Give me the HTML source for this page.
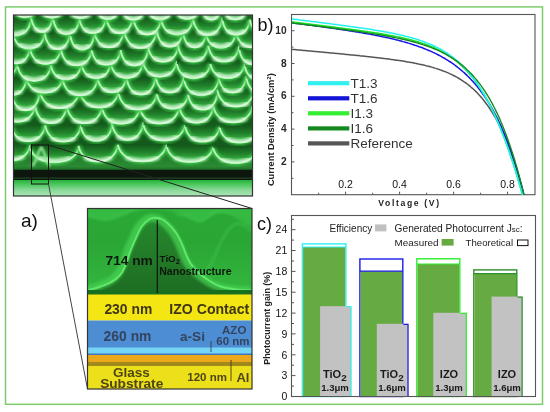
<!DOCTYPE html>
<html><head><meta charset="utf-8"><style>
html,body{margin:0;padding:0;background:#fff;width:550px;height:412px;overflow:hidden}
svg{display:block}
</style></head><body>
<svg width="550" height="412" viewBox="0 0 550 412">

<defs><clipPath id="bclip"><rect x="292" y="15" width="243" height="180"/></clipPath>
<clipPath id="semclip"><rect x="13.5" y="15" width="239" height="181"/></clipPath>
<clipPath id="aclip"><rect x="87.5" y="208.5" width="164.5" height="180.5"/></clipPath>
<linearGradient id="face" x1="0" y1="0" x2="0" y2="1">
 <stop offset="0" stop-color="#13581b"/><stop offset="0.55" stop-color="#135a1b"/><stop offset="0.75" stop-color="#21822b"/><stop offset="0.9" stop-color="#36ac42"/><stop offset="1" stop-color="#7ad884"/>
</linearGradient>
<linearGradient id="strip" x1="0" y1="0" x2="0" y2="1">
 <stop offset="0" stop-color="#1c7024"/><stop offset="0.6" stop-color="#247e2c"/><stop offset="0.85" stop-color="#2a8a33"/><stop offset="1" stop-color="#1a6420"/>
</linearGradient>
<linearGradient id="abg" x1="0" y1="0" x2="0" y2="1">
 <stop offset="0" stop-color="#2aa835"/><stop offset="0.4" stop-color="#2aa635"/><stop offset="1" stop-color="#34b83f"/>
</linearGradient>
<linearGradient id="lb" x1="0" y1="0" x2="0" y2="1">
 <stop offset="0" stop-color="#26b23a"/><stop offset="0.25" stop-color="#48c65a"/><stop offset="0.6" stop-color="#86d896"/><stop offset="1" stop-color="#ace6b8"/>
</linearGradient>
<linearGradient id="gtop" x1="0" y1="0" x2="0" y2="1">
 <stop offset="0" stop-color="#1f8a2a"/><stop offset="1" stop-color="#2cac37"/>
</linearGradient>
<linearGradient id="bump" x1="0" y1="0" x2="0" y2="1">
 <stop offset="0" stop-color="#248a2c"/><stop offset="0.5" stop-color="#237a28"/><stop offset="1" stop-color="#1d6c22"/>
</linearGradient>
<filter id="bl4" x="-20%" y="-20%" width="140%" height="140%"><feGaussianBlur stdDeviation="1.4"/></filter>
<filter id="bl3" x="-20%" y="-20%" width="140%" height="140%"><feGaussianBlur stdDeviation="0.9"/></filter>
<filter id="bl" x="-20%" y="-20%" width="140%" height="140%"><feGaussianBlur stdDeviation="0.6"/></filter>
<filter id="bl2" x="-20%" y="-20%" width="140%" height="140%"><feGaussianBlur stdDeviation="1.5"/></filter>
</defs>
<rect width="550" height="412" fill="#fff"/>
<rect x="5.5" y="6.9" width="537" height="397.4" fill="none" stroke="#7ccc6c" stroke-width="1.5"/>
<g clip-path="url(#semclip)"><rect x="13.5" y="15" width="239.0" height="181" fill="#1c6a27"/><rect x="13.5" y="140" width="239.0" height="31" fill="url(#strip)"/><path d="M-11.2,145.1 C-7.0,165.9 26.4,165.9 30.5,145.1 L30.5,123.9 L-11.2,123.9 Z" fill="url(#face)"/><path d="M-11.2,145.1 C-7.0,165.9 26.4,165.9 30.5,145.1" fill="none" stroke="#3cc849" stroke-width="5" filter="url(#bl4)"/><path d="M-11.2,145.1 C-7.0,165.9 26.4,165.9 30.5,145.1" fill="none" stroke="#b8f4bc" stroke-width="1.8" filter="url(#bl)"/><path d="M-4.5,156.4 Q9.7,163.4 23.9,156.4" fill="none" stroke="#e8fbe8" stroke-width="3.6" filter="url(#bl4)" opacity="0.9"/><path d="M30.5,148.8 C35.3,166.9 73.7,166.9 78.5,148.8 L78.5,124.9 L30.5,124.9 Z" fill="url(#face)"/><path d="M30.5,148.8 C35.3,166.9 73.7,166.9 78.5,148.8" fill="none" stroke="#3cc849" stroke-width="5" filter="url(#bl4)"/><path d="M30.5,148.8 C35.3,166.9 73.7,166.9 78.5,148.8" fill="none" stroke="#b8f4bc" stroke-width="1.8" filter="url(#bl)"/><path d="M38.2,157.4 Q54.5,164.4 70.8,157.4" fill="none" stroke="#e8fbe8" stroke-width="3.6" filter="url(#bl4)" opacity="0.9"/><path d="M78.5,145.8 C82.4,166.9 113.9,166.9 117.8,145.8 L117.8,124.9 L78.5,124.9 Z" fill="url(#face)"/><path d="M78.5,145.8 C82.4,166.9 113.9,166.9 117.8,145.8" fill="none" stroke="#3cc849" stroke-width="5" filter="url(#bl4)"/><path d="M78.5,145.8 C82.4,166.9 113.9,166.9 117.8,145.8" fill="none" stroke="#b8f4bc" stroke-width="1.8" filter="url(#bl)"/><path d="M84.8,157.4 Q98.2,164.4 111.6,157.4" fill="none" stroke="#e8fbe8" stroke-width="3.6" filter="url(#bl4)" opacity="0.9"/><path d="M117.8,144.7 C122.7,166.9 162.0,166.9 166.9,144.7 L166.9,124.9 L117.8,124.9 Z" fill="url(#face)"/><path d="M117.8,144.7 C122.7,166.9 162.0,166.9 166.9,144.7" fill="none" stroke="#3cc849" stroke-width="5" filter="url(#bl4)"/><path d="M117.8,144.7 C122.7,166.9 162.0,166.9 166.9,144.7" fill="none" stroke="#b8f4bc" stroke-width="1.8" filter="url(#bl)"/><path d="M125.7,157.4 Q142.4,164.4 159.0,157.4" fill="none" stroke="#e8fbe8" stroke-width="3.6" filter="url(#bl4)" opacity="0.9"/><path d="M166.9,147.3 C171.5,167.1 208.7,167.1 213.3,147.3 L213.3,125.1 L166.9,125.1 Z" fill="url(#face)"/><path d="M166.9,147.3 C171.5,167.1 208.7,167.1 213.3,147.3" fill="none" stroke="#3cc849" stroke-width="5" filter="url(#bl4)"/><path d="M166.9,147.3 C171.5,167.1 208.7,167.1 213.3,147.3" fill="none" stroke="#b8f4bc" stroke-width="1.8" filter="url(#bl)"/><path d="M174.3,157.6 Q190.1,164.6 205.9,157.6" fill="none" stroke="#e8fbe8" stroke-width="3.6" filter="url(#bl4)" opacity="0.9"/><path d="M213.3,148.2 C217.8,168.2 253.3,168.2 257.8,148.2 L257.8,126.2 L213.3,126.2 Z" fill="url(#face)"/><path d="M213.3,148.2 C217.8,168.2 253.3,168.2 257.8,148.2" fill="none" stroke="#3cc849" stroke-width="5" filter="url(#bl4)"/><path d="M213.3,148.2 C217.8,168.2 253.3,168.2 257.8,148.2" fill="none" stroke="#b8f4bc" stroke-width="1.8" filter="url(#bl)"/><path d="M220.5,158.7 Q235.6,165.7 250.7,158.7" fill="none" stroke="#e8fbe8" stroke-width="3.6" filter="url(#bl4)" opacity="0.9"/><path d="M-27.4,130.7 C-23.6,148.8 7.4,148.8 11.3,130.7 L11.3,106.8 L-27.4,106.8 Z" fill="url(#face)"/><path d="M-27.4,130.7 C-23.6,148.8 7.4,148.8 11.3,130.7" fill="none" stroke="#3cc849" stroke-width="5" filter="url(#bl4)"/><path d="M-27.4,130.7 C-23.6,148.8 7.4,148.8 11.3,130.7" fill="none" stroke="#b8f4bc" stroke-width="1.8" filter="url(#bl)"/><path d="M-21.2,139.3 Q-8.1,146.3 5.1,139.3" fill="none" stroke="#e8fbe8" stroke-width="3.6" filter="url(#bl4)" opacity="0.9"/><path d="M11.3,125.7 C14.7,146.4 41.8,146.4 45.2,125.7 L45.2,104.4 L11.3,104.4 Z" fill="url(#face)"/><path d="M11.3,125.7 C14.7,146.4 41.8,146.4 45.2,125.7" fill="none" stroke="#3cc849" stroke-width="5" filter="url(#bl4)"/><path d="M11.3,125.7 C14.7,146.4 41.8,146.4 45.2,125.7" fill="none" stroke="#b8f4bc" stroke-width="1.8" filter="url(#bl)"/><path d="M16.7,136.9 Q28.3,143.9 39.8,136.9" fill="none" stroke="#e8fbe8" stroke-width="3.6" filter="url(#bl4)" opacity="0.9"/><path d="M45.2,125.2 C48.8,147.2 77.6,147.2 81.2,125.2 L81.2,105.2 L45.2,105.2 Z" fill="url(#face)"/><path d="M45.2,125.2 C48.8,147.2 77.6,147.2 81.2,125.2" fill="none" stroke="#3cc849" stroke-width="5" filter="url(#bl4)"/><path d="M45.2,125.2 C48.8,147.2 77.6,147.2 81.2,125.2" fill="none" stroke="#b8f4bc" stroke-width="1.8" filter="url(#bl)"/><path d="M51.0,137.7 Q63.2,144.7 75.4,137.7" fill="none" stroke="#e8fbe8" stroke-width="3.6" filter="url(#bl4)" opacity="0.9"/><path d="M81.2,127.1 C84.2,145.5 108.5,145.5 111.6,127.1 L111.6,103.5 L81.2,103.5 Z" fill="url(#face)"/><path d="M81.2,127.1 C84.2,145.5 108.5,145.5 111.6,127.1" fill="none" stroke="#3cc849" stroke-width="5" filter="url(#bl4)"/><path d="M81.2,127.1 C84.2,145.5 108.5,145.5 111.6,127.1" fill="none" stroke="#b8f4bc" stroke-width="1.8" filter="url(#bl)"/><path d="M86.1,136.0 Q96.4,143.0 106.7,136.0" fill="none" stroke="#e8fbe8" stroke-width="3.6" filter="url(#bl4)" opacity="0.9"/><path d="M111.6,122.4 C114.8,145.6 140.4,145.6 143.6,122.4 L143.6,103.6 L111.6,103.6 Z" fill="url(#face)"/><path d="M111.6,122.4 C114.8,145.6 140.4,145.6 143.6,122.4" fill="none" stroke="#3cc849" stroke-width="5" filter="url(#bl4)"/><path d="M111.6,122.4 C114.8,145.6 140.4,145.6 143.6,122.4" fill="none" stroke="#b8f4bc" stroke-width="1.8" filter="url(#bl)"/><path d="M116.7,136.1 Q127.6,143.1 138.4,136.1" fill="none" stroke="#e8fbe8" stroke-width="3.6" filter="url(#bl4)" opacity="0.9"/><path d="M143.6,125.1 C147.7,145.6 181.1,145.6 185.3,125.1 L185.3,103.6 L143.6,103.6 Z" fill="url(#face)"/><path d="M143.6,125.1 C147.7,145.6 181.1,145.6 185.3,125.1" fill="none" stroke="#3cc849" stroke-width="5" filter="url(#bl4)"/><path d="M143.6,125.1 C147.7,145.6 181.1,145.6 185.3,125.1" fill="none" stroke="#b8f4bc" stroke-width="1.8" filter="url(#bl)"/><path d="M150.2,136.1 Q164.4,143.1 178.6,136.1" fill="none" stroke="#e8fbe8" stroke-width="3.6" filter="url(#bl4)" opacity="0.9"/><path d="M185.3,126.9 C188.7,146.6 216.4,146.6 219.8,126.9 L219.8,104.6 L185.3,104.6 Z" fill="url(#face)"/><path d="M185.3,126.9 C188.7,146.6 216.4,146.6 219.8,126.9" fill="none" stroke="#3cc849" stroke-width="5" filter="url(#bl4)"/><path d="M185.3,126.9 C188.7,146.6 216.4,146.6 219.8,126.9" fill="none" stroke="#b8f4bc" stroke-width="1.8" filter="url(#bl)"/><path d="M190.8,137.1 Q202.6,144.1 214.3,137.1" fill="none" stroke="#e8fbe8" stroke-width="3.6" filter="url(#bl4)" opacity="0.9"/><path d="M219.8,127.9 C223.7,147.6 254.9,147.6 258.8,127.9 L258.8,105.6 L219.8,105.6 Z" fill="url(#face)"/><path d="M219.8,127.9 C223.7,147.6 254.9,147.6 258.8,127.9" fill="none" stroke="#3cc849" stroke-width="5" filter="url(#bl4)"/><path d="M219.8,127.9 C223.7,147.6 254.9,147.6 258.8,127.9" fill="none" stroke="#b8f4bc" stroke-width="1.8" filter="url(#bl)"/><path d="M226.1,138.1 Q239.3,145.1 252.6,138.1" fill="none" stroke="#e8fbe8" stroke-width="3.6" filter="url(#bl4)" opacity="0.9"/><path d="M-1.1,105.4 C2.6,127.3 31.8,127.3 35.4,105.4 L35.4,85.3 L-1.1,85.3 Z" fill="url(#face)"/><path d="M-1.1,105.4 C2.6,127.3 31.8,127.3 35.4,105.4" fill="none" stroke="#3cc849" stroke-width="5" filter="url(#bl4)"/><path d="M-1.1,105.4 C2.6,127.3 31.8,127.3 35.4,105.4" fill="none" stroke="#b8f4bc" stroke-width="1.8" filter="url(#bl)"/><path d="M4.8,117.8 Q17.2,124.8 29.6,117.8" fill="none" stroke="#e8fbe8" stroke-width="3.6" filter="url(#bl4)" opacity="0.9"/><path d="M35.4,107.0 C38.6,128.4 63.6,128.4 66.7,107.0 L66.7,86.4 L35.4,86.4 Z" fill="url(#face)"/><path d="M35.4,107.0 C38.6,128.4 63.6,128.4 66.7,107.0" fill="none" stroke="#3cc849" stroke-width="5" filter="url(#bl4)"/><path d="M35.4,107.0 C38.6,128.4 63.6,128.4 66.7,107.0" fill="none" stroke="#b8f4bc" stroke-width="1.8" filter="url(#bl)"/><path d="M40.4,118.9 Q51.1,125.9 61.7,118.9" fill="none" stroke="#e8fbe8" stroke-width="3.6" filter="url(#bl4)" opacity="0.9"/><path d="M66.7,105.9 C70.3,128.9 99.0,128.9 102.6,105.9 L102.6,86.9 L66.7,86.9 Z" fill="url(#face)"/><path d="M66.7,105.9 C70.3,128.9 99.0,128.9 102.6,105.9" fill="none" stroke="#3cc849" stroke-width="5" filter="url(#bl4)"/><path d="M66.7,105.9 C70.3,128.9 99.0,128.9 102.6,105.9" fill="none" stroke="#b8f4bc" stroke-width="1.8" filter="url(#bl)"/><path d="M72.5,119.4 Q84.6,126.4 96.8,119.4" fill="none" stroke="#e8fbe8" stroke-width="3.6" filter="url(#bl4)" opacity="0.9"/><path d="M102.6,109.4 C106.2,128.6 135.8,128.6 139.5,109.4 L139.5,86.6 L102.6,86.6 Z" fill="url(#face)"/><path d="M102.6,109.4 C106.2,128.6 135.8,128.6 139.5,109.4" fill="none" stroke="#3cc849" stroke-width="5" filter="url(#bl4)"/><path d="M102.6,109.4 C106.2,128.6 135.8,128.6 139.5,109.4" fill="none" stroke="#b8f4bc" stroke-width="1.8" filter="url(#bl)"/><path d="M108.5,119.1 Q121.0,126.1 133.6,119.1" fill="none" stroke="#e8fbe8" stroke-width="3.6" filter="url(#bl4)" opacity="0.9"/><path d="M139.5,107.0 C143.5,129.1 175.6,129.1 179.6,107.0 L179.6,87.1 L139.5,87.1 Z" fill="url(#face)"/><path d="M139.5,107.0 C143.5,129.1 175.6,129.1 179.6,107.0" fill="none" stroke="#3cc849" stroke-width="5" filter="url(#bl4)"/><path d="M139.5,107.0 C143.5,129.1 175.6,129.1 179.6,107.0" fill="none" stroke="#b8f4bc" stroke-width="1.8" filter="url(#bl)"/><path d="M145.9,119.6 Q159.6,126.6 173.2,119.6" fill="none" stroke="#e8fbe8" stroke-width="3.6" filter="url(#bl4)" opacity="0.9"/><path d="M179.6,107.3 C183.0,128.0 209.9,128.0 213.2,107.3 L213.2,86.0 L179.6,86.0 Z" fill="url(#face)"/><path d="M179.6,107.3 C183.0,128.0 209.9,128.0 213.2,107.3" fill="none" stroke="#3cc849" stroke-width="5" filter="url(#bl4)"/><path d="M179.6,107.3 C183.0,128.0 209.9,128.0 213.2,107.3" fill="none" stroke="#b8f4bc" stroke-width="1.8" filter="url(#bl)"/><path d="M185.0,118.5 Q196.4,125.5 207.8,118.5" fill="none" stroke="#e8fbe8" stroke-width="3.6" filter="url(#bl4)" opacity="0.9"/><path d="M213.2,105.8 C217.2,127.9 248.8,127.9 252.8,105.8 L252.8,85.9 L213.2,85.9 Z" fill="url(#face)"/><path d="M213.2,105.8 C217.2,127.9 248.8,127.9 252.8,105.8" fill="none" stroke="#3cc849" stroke-width="5" filter="url(#bl4)"/><path d="M213.2,105.8 C217.2,127.9 248.8,127.9 252.8,105.8" fill="none" stroke="#b8f4bc" stroke-width="1.8" filter="url(#bl)"/><path d="M219.5,118.4 Q233.0,125.4 246.4,118.4" fill="none" stroke="#e8fbe8" stroke-width="3.6" filter="url(#bl4)" opacity="0.9"/><path d="M252.8,108.1 C256.9,130.4 289.6,130.4 293.7,108.1 L293.7,88.4 L252.8,88.4 Z" fill="url(#face)"/><path d="M252.8,108.1 C256.9,130.4 289.6,130.4 293.7,108.1" fill="none" stroke="#3cc849" stroke-width="5" filter="url(#bl4)"/><path d="M252.8,108.1 C256.9,130.4 289.6,130.4 293.7,108.1" fill="none" stroke="#b8f4bc" stroke-width="1.8" filter="url(#bl)"/><path d="M259.3,120.9 Q273.2,127.9 287.1,120.9" fill="none" stroke="#e8fbe8" stroke-width="3.6" filter="url(#bl4)" opacity="0.9"/><path d="M-21.1,97.2 C-17.9,115.8 8.5,115.8 11.8,97.2 L11.8,73.8 L-21.1,73.8 Z" fill="url(#face)"/><path d="M-21.1,97.2 C-17.9,115.8 8.5,115.8 11.8,97.2" fill="none" stroke="#3cc849" stroke-width="5" filter="url(#bl4)"/><path d="M-21.1,97.2 C-17.9,115.8 8.5,115.8 11.8,97.2" fill="none" stroke="#b8f4bc" stroke-width="1.8" filter="url(#bl)"/><path d="M-15.9,106.3 Q-4.7,113.3 6.5,106.3" fill="none" stroke="#e8fbe8" stroke-width="3.6" filter="url(#bl4)" opacity="0.9"/><path d="M11.8,93.3 C14.5,115.9 36.9,115.9 39.7,93.3 L39.7,73.9 L11.8,73.9 Z" fill="url(#face)"/><path d="M11.8,93.3 C14.5,115.9 36.9,115.9 39.7,93.3" fill="none" stroke="#3cc849" stroke-width="5" filter="url(#bl4)"/><path d="M11.8,93.3 C14.5,115.9 36.9,115.9 39.7,93.3" fill="none" stroke="#b8f4bc" stroke-width="1.8" filter="url(#bl)"/><path d="M16.2,106.4 Q25.7,113.4 35.2,106.4" fill="none" stroke="#e8fbe8" stroke-width="3.6" filter="url(#bl4)" opacity="0.9"/><path d="M39.7,90.8 C43.7,113.8 75.7,113.8 79.6,90.8 L79.6,71.8 L39.7,71.8 Z" fill="url(#face)"/><path d="M39.7,90.8 C43.7,113.8 75.7,113.8 79.6,90.8" fill="none" stroke="#3cc849" stroke-width="5" filter="url(#bl4)"/><path d="M39.7,90.8 C43.7,113.8 75.7,113.8 79.6,90.8" fill="none" stroke="#b8f4bc" stroke-width="1.8" filter="url(#bl)"/><path d="M46.1,104.3 Q59.7,111.3 73.3,104.3" fill="none" stroke="#e8fbe8" stroke-width="3.6" filter="url(#bl4)" opacity="0.9"/><path d="M79.6,91.1 C83.6,113.0 115.0,113.0 118.9,91.1 L118.9,71.0 L79.6,71.0 Z" fill="url(#face)"/><path d="M79.6,91.1 C83.6,113.0 115.0,113.0 118.9,91.1" fill="none" stroke="#3cc849" stroke-width="5" filter="url(#bl4)"/><path d="M79.6,91.1 C83.6,113.0 115.0,113.0 118.9,91.1" fill="none" stroke="#b8f4bc" stroke-width="1.8" filter="url(#bl)"/><path d="M85.9,103.5 Q99.3,110.5 112.6,103.5" fill="none" stroke="#e8fbe8" stroke-width="3.6" filter="url(#bl4)" opacity="0.9"/><path d="M118.9,94.1 C122.7,114.8 153.2,114.8 157.0,94.1 L157.0,72.8 L118.9,72.8 Z" fill="url(#face)"/><path d="M118.9,94.1 C122.7,114.8 153.2,114.8 157.0,94.1" fill="none" stroke="#3cc849" stroke-width="5" filter="url(#bl4)"/><path d="M118.9,94.1 C122.7,114.8 153.2,114.8 157.0,94.1" fill="none" stroke="#b8f4bc" stroke-width="1.8" filter="url(#bl)"/><path d="M125.0,105.3 Q137.9,112.3 150.9,105.3" fill="none" stroke="#e8fbe8" stroke-width="3.6" filter="url(#bl4)" opacity="0.9"/><path d="M157.0,94.5 C160.1,113.5 185.3,113.5 188.4,94.5 L188.4,71.5 L157.0,71.5 Z" fill="url(#face)"/><path d="M157.0,94.5 C160.1,113.5 185.3,113.5 188.4,94.5" fill="none" stroke="#3cc849" stroke-width="5" filter="url(#bl4)"/><path d="M157.0,94.5 C160.1,113.5 185.3,113.5 188.4,94.5" fill="none" stroke="#b8f4bc" stroke-width="1.8" filter="url(#bl)"/><path d="M162.0,104.0 Q172.7,111.0 183.4,104.0" fill="none" stroke="#e8fbe8" stroke-width="3.6" filter="url(#bl4)" opacity="0.9"/><path d="M188.4,95.1 C191.3,114.5 214.3,114.5 217.1,95.1 L217.1,72.5 L188.4,72.5 Z" fill="url(#face)"/><path d="M188.4,95.1 C191.3,114.5 214.3,114.5 217.1,95.1" fill="none" stroke="#3cc849" stroke-width="5" filter="url(#bl4)"/><path d="M188.4,95.1 C191.3,114.5 214.3,114.5 217.1,95.1" fill="none" stroke="#b8f4bc" stroke-width="1.8" filter="url(#bl)"/><path d="M193.0,105.0 Q202.8,112.0 212.5,105.0" fill="none" stroke="#e8fbe8" stroke-width="3.6" filter="url(#bl4)" opacity="0.9"/><path d="M217.1,89.5 C220.9,112.3 251.1,112.3 254.9,89.5 L254.9,70.3 L217.1,70.3 Z" fill="url(#face)"/><path d="M217.1,89.5 C220.9,112.3 251.1,112.3 254.9,89.5" fill="none" stroke="#3cc849" stroke-width="5" filter="url(#bl4)"/><path d="M217.1,89.5 C220.9,112.3 251.1,112.3 254.9,89.5" fill="none" stroke="#b8f4bc" stroke-width="1.8" filter="url(#bl)"/><path d="M223.2,102.8 Q236.0,109.8 248.9,102.8" fill="none" stroke="#e8fbe8" stroke-width="3.6" filter="url(#bl4)" opacity="0.9"/><path d="M254.9,93.1 C258.6,115.8 287.7,115.8 291.3,93.1 L291.3,73.8 L254.9,73.8 Z" fill="url(#face)"/><path d="M254.9,93.1 C258.6,115.8 287.7,115.8 291.3,93.1" fill="none" stroke="#3cc849" stroke-width="5" filter="url(#bl4)"/><path d="M254.9,93.1 C258.6,115.8 287.7,115.8 291.3,93.1" fill="none" stroke="#b8f4bc" stroke-width="1.8" filter="url(#bl)"/><path d="M260.7,106.3 Q273.1,113.3 285.5,106.3" fill="none" stroke="#e8fbe8" stroke-width="3.6" filter="url(#bl4)" opacity="0.9"/><path d="M-4.2,80.2 C-1.1,100.3 23.3,100.3 26.4,80.2 L26.4,58.3 L-4.2,58.3 Z" fill="url(#face)"/><path d="M-4.2,80.2 C-1.1,100.3 23.3,100.3 26.4,80.2" fill="none" stroke="#3cc849" stroke-width="5" filter="url(#bl4)"/><path d="M-4.2,80.2 C-1.1,100.3 23.3,100.3 26.4,80.2" fill="none" stroke="#b8f4bc" stroke-width="1.8" filter="url(#bl)"/><path d="M0.7,90.8 Q11.1,97.8 21.5,90.8" fill="none" stroke="#e8fbe8" stroke-width="3.6" filter="url(#bl4)" opacity="0.9"/><path d="M26.4,78.1 C30.0,97.7 59.4,97.7 63.0,78.1 L63.0,55.7 L26.4,55.7 Z" fill="url(#face)"/><path d="M26.4,78.1 C30.0,97.7 59.4,97.7 63.0,78.1" fill="none" stroke="#3cc849" stroke-width="5" filter="url(#bl4)"/><path d="M26.4,78.1 C30.0,97.7 59.4,97.7 63.0,78.1" fill="none" stroke="#b8f4bc" stroke-width="1.8" filter="url(#bl)"/><path d="M32.2,88.2 Q44.7,95.2 57.2,88.2" fill="none" stroke="#e8fbe8" stroke-width="3.6" filter="url(#bl4)" opacity="0.9"/><path d="M63.0,80.3 C66.5,100.5 93.9,100.5 97.3,80.3 L97.3,58.5 L63.0,58.5 Z" fill="url(#face)"/><path d="M63.0,80.3 C66.5,100.5 93.9,100.5 97.3,80.3" fill="none" stroke="#3cc849" stroke-width="5" filter="url(#bl4)"/><path d="M63.0,80.3 C66.5,100.5 93.9,100.5 97.3,80.3" fill="none" stroke="#b8f4bc" stroke-width="1.8" filter="url(#bl)"/><path d="M68.5,91.0 Q80.2,98.0 91.8,91.0" fill="none" stroke="#e8fbe8" stroke-width="3.6" filter="url(#bl4)" opacity="0.9"/><path d="M97.3,76.8 C100.2,97.5 123.7,97.5 126.6,76.8 L126.6,55.5 L97.3,55.5 Z" fill="url(#face)"/><path d="M97.3,76.8 C100.2,97.5 123.7,97.5 126.6,76.8" fill="none" stroke="#3cc849" stroke-width="5" filter="url(#bl4)"/><path d="M97.3,76.8 C100.2,97.5 123.7,97.5 126.6,76.8" fill="none" stroke="#b8f4bc" stroke-width="1.8" filter="url(#bl)"/><path d="M102.0,88.0 Q111.9,95.0 121.9,88.0" fill="none" stroke="#e8fbe8" stroke-width="3.6" filter="url(#bl4)" opacity="0.9"/><path d="M126.6,77.8 C129.5,100.2 152.6,100.2 155.5,77.8 L155.5,58.2 L126.6,58.2 Z" fill="url(#face)"/><path d="M126.6,77.8 C129.5,100.2 152.6,100.2 155.5,77.8" fill="none" stroke="#3cc849" stroke-width="5" filter="url(#bl4)"/><path d="M126.6,77.8 C129.5,100.2 152.6,100.2 155.5,77.8" fill="none" stroke="#b8f4bc" stroke-width="1.8" filter="url(#bl)"/><path d="M131.2,90.7 Q141.0,97.7 150.8,90.7" fill="none" stroke="#e8fbe8" stroke-width="3.6" filter="url(#bl4)" opacity="0.9"/><path d="M155.5,75.9 C158.3,98.1 181.4,98.1 184.3,75.9 L184.3,56.1 L155.5,56.1 Z" fill="url(#face)"/><path d="M155.5,75.9 C158.3,98.1 181.4,98.1 184.3,75.9" fill="none" stroke="#3cc849" stroke-width="5" filter="url(#bl4)"/><path d="M155.5,75.9 C158.3,98.1 181.4,98.1 184.3,75.9" fill="none" stroke="#b8f4bc" stroke-width="1.8" filter="url(#bl)"/><path d="M160.1,88.6 Q169.9,95.6 179.7,88.6" fill="none" stroke="#e8fbe8" stroke-width="3.6" filter="url(#bl4)" opacity="0.9"/><path d="M184.3,80.6 C187.7,100.2 215.0,100.2 218.4,80.6 L218.4,58.2 L184.3,58.2 Z" fill="url(#face)"/><path d="M184.3,80.6 C187.7,100.2 215.0,100.2 218.4,80.6" fill="none" stroke="#3cc849" stroke-width="5" filter="url(#bl4)"/><path d="M184.3,80.6 C187.7,100.2 215.0,100.2 218.4,80.6" fill="none" stroke="#b8f4bc" stroke-width="1.8" filter="url(#bl)"/><path d="M189.7,90.7 Q201.3,97.7 213.0,90.7" fill="none" stroke="#e8fbe8" stroke-width="3.6" filter="url(#bl4)" opacity="0.9"/><path d="M218.4,76.0 C221.2,98.2 243.8,98.2 246.6,76.0 L246.6,56.2 L218.4,56.2 Z" fill="url(#face)"/><path d="M218.4,76.0 C221.2,98.2 243.8,98.2 246.6,76.0" fill="none" stroke="#3cc849" stroke-width="5" filter="url(#bl4)"/><path d="M218.4,76.0 C221.2,98.2 243.8,98.2 246.6,76.0" fill="none" stroke="#b8f4bc" stroke-width="1.8" filter="url(#bl)"/><path d="M222.9,88.7 Q232.5,95.7 242.1,88.7" fill="none" stroke="#e8fbe8" stroke-width="3.6" filter="url(#bl4)" opacity="0.9"/><path d="M246.6,78.3 C249.6,98.4 273.4,98.4 276.4,78.3 L276.4,56.4 L246.6,56.4 Z" fill="url(#face)"/><path d="M246.6,78.3 C249.6,98.4 273.4,98.4 276.4,78.3" fill="none" stroke="#3cc849" stroke-width="5" filter="url(#bl4)"/><path d="M246.6,78.3 C249.6,98.4 273.4,98.4 276.4,78.3" fill="none" stroke="#b8f4bc" stroke-width="1.8" filter="url(#bl)"/><path d="M251.4,88.9 Q261.5,95.9 271.6,88.9" fill="none" stroke="#e8fbe8" stroke-width="3.6" filter="url(#bl4)" opacity="0.9"/><path d="M-15.8,63.9 C-12.5,82.0 14.4,82.0 17.8,63.9 L17.8,40.0 L-15.8,40.0 Z" fill="url(#face)"/><path d="M-15.8,63.9 C-12.5,82.0 14.4,82.0 17.8,63.9" fill="none" stroke="#3cc849" stroke-width="5" filter="url(#bl4)"/><path d="M-15.8,63.9 C-12.5,82.0 14.4,82.0 17.8,63.9" fill="none" stroke="#b8f4bc" stroke-width="1.8" filter="url(#bl)"/><path d="M-10.5,72.5 Q1.0,79.5 12.4,72.5" fill="none" stroke="#e8fbe8" stroke-width="3.6" filter="url(#bl4)" opacity="0.9"/><path d="M17.8,66.6 C21.1,85.8 47.5,85.8 50.8,66.6 L50.8,43.8 L17.8,43.8 Z" fill="url(#face)"/><path d="M17.8,66.6 C21.1,85.8 47.5,85.8 50.8,66.6" fill="none" stroke="#3cc849" stroke-width="5" filter="url(#bl4)"/><path d="M17.8,66.6 C21.1,85.8 47.5,85.8 50.8,66.6" fill="none" stroke="#b8f4bc" stroke-width="1.8" filter="url(#bl)"/><path d="M23.1,76.3 Q34.3,83.3 45.5,76.3" fill="none" stroke="#e8fbe8" stroke-width="3.6" filter="url(#bl4)" opacity="0.9"/><path d="M50.8,64.8 C53.8,84.3 78.2,84.3 81.3,64.8 L81.3,42.3 L50.8,42.3 Z" fill="url(#face)"/><path d="M50.8,64.8 C53.8,84.3 78.2,84.3 81.3,64.8" fill="none" stroke="#3cc849" stroke-width="5" filter="url(#bl4)"/><path d="M50.8,64.8 C53.8,84.3 78.2,84.3 81.3,64.8" fill="none" stroke="#b8f4bc" stroke-width="1.8" filter="url(#bl)"/><path d="M55.7,74.8 Q66.0,81.8 76.4,74.8" fill="none" stroke="#e8fbe8" stroke-width="3.6" filter="url(#bl4)" opacity="0.9"/><path d="M81.3,63.4 C84.2,83.2 107.8,83.2 110.8,63.4 L110.8,41.2 L81.3,41.2 Z" fill="url(#face)"/><path d="M81.3,63.4 C84.2,83.2 107.8,83.2 110.8,63.4" fill="none" stroke="#3cc849" stroke-width="5" filter="url(#bl4)"/><path d="M81.3,63.4 C84.2,83.2 107.8,83.2 110.8,63.4" fill="none" stroke="#b8f4bc" stroke-width="1.8" filter="url(#bl)"/><path d="M86.0,73.7 Q96.0,80.7 106.1,73.7" fill="none" stroke="#e8fbe8" stroke-width="3.6" filter="url(#bl4)" opacity="0.9"/><path d="M110.8,63.3 C114.0,83.1 139.6,83.1 142.8,63.3 L142.8,41.1 L110.8,41.1 Z" fill="url(#face)"/><path d="M110.8,63.3 C114.0,83.1 139.6,83.1 142.8,63.3" fill="none" stroke="#3cc849" stroke-width="5" filter="url(#bl4)"/><path d="M110.8,63.3 C114.0,83.1 139.6,83.1 142.8,63.3" fill="none" stroke="#b8f4bc" stroke-width="1.8" filter="url(#bl)"/><path d="M115.9,73.6 Q126.8,80.6 137.7,73.6" fill="none" stroke="#e8fbe8" stroke-width="3.6" filter="url(#bl4)" opacity="0.9"/><path d="M142.8,61.1 C146.2,82.0 173.5,82.0 176.9,61.1 L176.9,40.0 L142.8,40.0 Z" fill="url(#face)"/><path d="M142.8,61.1 C146.2,82.0 173.5,82.0 176.9,61.1" fill="none" stroke="#3cc849" stroke-width="5" filter="url(#bl4)"/><path d="M142.8,61.1 C146.2,82.0 173.5,82.0 176.9,61.1" fill="none" stroke="#b8f4bc" stroke-width="1.8" filter="url(#bl)"/><path d="M148.3,72.5 Q159.9,79.5 171.4,72.5" fill="none" stroke="#e8fbe8" stroke-width="3.6" filter="url(#bl4)" opacity="0.9"/><path d="M176.9,64.2 C180.2,83.1 207.1,83.1 210.5,64.2 L210.5,41.1 L176.9,41.1 Z" fill="url(#face)"/><path d="M176.9,64.2 C180.2,83.1 207.1,83.1 210.5,64.2" fill="none" stroke="#3cc849" stroke-width="5" filter="url(#bl4)"/><path d="M176.9,64.2 C180.2,83.1 207.1,83.1 210.5,64.2" fill="none" stroke="#b8f4bc" stroke-width="1.8" filter="url(#bl)"/><path d="M182.3,73.6 Q193.7,80.6 205.1,73.6" fill="none" stroke="#e8fbe8" stroke-width="3.6" filter="url(#bl4)" opacity="0.9"/><path d="M210.5,64.1 C213.9,82.9 241.5,82.9 244.9,64.1 L244.9,40.9 L210.5,40.9 Z" fill="url(#face)"/><path d="M210.5,64.1 C213.9,82.9 241.5,82.9 244.9,64.1" fill="none" stroke="#3cc849" stroke-width="5" filter="url(#bl4)"/><path d="M210.5,64.1 C213.9,82.9 241.5,82.9 244.9,64.1" fill="none" stroke="#b8f4bc" stroke-width="1.8" filter="url(#bl)"/><path d="M216.0,73.4 Q227.7,80.4 239.4,73.4" fill="none" stroke="#e8fbe8" stroke-width="3.6" filter="url(#bl4)" opacity="0.9"/><path d="M244.9,66.4 C247.9,84.7 272.1,84.7 275.2,66.4 L275.2,42.7 L244.9,42.7 Z" fill="url(#face)"/><path d="M244.9,66.4 C247.9,84.7 272.1,84.7 275.2,66.4" fill="none" stroke="#3cc849" stroke-width="5" filter="url(#bl4)"/><path d="M244.9,66.4 C247.9,84.7 272.1,84.7 275.2,66.4" fill="none" stroke="#b8f4bc" stroke-width="1.8" filter="url(#bl)"/><path d="M249.7,75.2 Q260.0,82.2 270.3,75.2" fill="none" stroke="#e8fbe8" stroke-width="3.6" filter="url(#bl4)" opacity="0.9"/><path d="M1.9,48.0 C4.7,68.6 27.3,68.6 30.1,48.0 L30.1,26.6 L1.9,26.6 Z" fill="url(#face)"/><path d="M1.9,48.0 C4.7,68.6 27.3,68.6 30.1,48.0" fill="none" stroke="#3cc849" stroke-width="5" filter="url(#bl4)"/><path d="M1.9,48.0 C4.7,68.6 27.3,68.6 30.1,48.0" fill="none" stroke="#b8f4bc" stroke-width="1.8" filter="url(#bl)"/><path d="M6.4,59.1 Q16.0,66.1 25.6,59.1" fill="none" stroke="#e8fbe8" stroke-width="3.6" filter="url(#bl4)" opacity="0.9"/><path d="M30.1,48.4 C33.2,69.2 58.1,69.2 61.2,48.4 L61.2,27.2 L30.1,27.2 Z" fill="url(#face)"/><path d="M30.1,48.4 C33.2,69.2 58.1,69.2 61.2,48.4" fill="none" stroke="#3cc849" stroke-width="5" filter="url(#bl4)"/><path d="M30.1,48.4 C33.2,69.2 58.1,69.2 61.2,48.4" fill="none" stroke="#b8f4bc" stroke-width="1.8" filter="url(#bl)"/><path d="M35.1,59.7 Q45.6,66.7 56.2,59.7" fill="none" stroke="#e8fbe8" stroke-width="3.6" filter="url(#bl4)" opacity="0.9"/><path d="M61.2,50.0 C64.2,70.6 88.9,70.6 91.9,50.0 L91.9,28.6 L61.2,28.6 Z" fill="url(#face)"/><path d="M61.2,50.0 C64.2,70.6 88.9,70.6 91.9,50.0" fill="none" stroke="#3cc849" stroke-width="5" filter="url(#bl4)"/><path d="M61.2,50.0 C64.2,70.6 88.9,70.6 91.9,50.0" fill="none" stroke="#b8f4bc" stroke-width="1.8" filter="url(#bl)"/><path d="M66.1,61.1 Q76.5,68.1 87.0,61.1" fill="none" stroke="#e8fbe8" stroke-width="3.6" filter="url(#bl4)" opacity="0.9"/><path d="M91.9,50.6 C94.8,69.7 117.8,69.7 120.7,50.6 L120.7,27.7 L91.9,27.7 Z" fill="url(#face)"/><path d="M91.9,50.6 C94.8,69.7 117.8,69.7 120.7,50.6" fill="none" stroke="#3cc849" stroke-width="5" filter="url(#bl4)"/><path d="M91.9,50.6 C94.8,69.7 117.8,69.7 120.7,50.6" fill="none" stroke="#b8f4bc" stroke-width="1.8" filter="url(#bl)"/><path d="M96.5,60.2 Q106.3,67.2 116.1,60.2" fill="none" stroke="#e8fbe8" stroke-width="3.6" filter="url(#bl4)" opacity="0.9"/><path d="M120.7,50.1 C123.4,70.7 145.3,70.7 148.1,50.1 L148.1,28.7 L120.7,28.7 Z" fill="url(#face)"/><path d="M120.7,50.1 C123.4,70.7 145.3,70.7 148.1,50.1" fill="none" stroke="#3cc849" stroke-width="5" filter="url(#bl4)"/><path d="M120.7,50.1 C123.4,70.7 145.3,70.7 148.1,50.1" fill="none" stroke="#b8f4bc" stroke-width="1.8" filter="url(#bl)"/><path d="M125.1,61.2 Q134.4,68.2 143.7,61.2" fill="none" stroke="#e8fbe8" stroke-width="3.6" filter="url(#bl4)" opacity="0.9"/><path d="M148.1,46.8 C151.1,66.8 175.1,66.8 178.1,46.8 L178.1,24.8 L148.1,24.8 Z" fill="url(#face)"/><path d="M148.1,46.8 C151.1,66.8 175.1,66.8 178.1,46.8" fill="none" stroke="#3cc849" stroke-width="5" filter="url(#bl4)"/><path d="M148.1,46.8 C151.1,66.8 175.1,66.8 178.1,46.8" fill="none" stroke="#b8f4bc" stroke-width="1.8" filter="url(#bl)"/><path d="M152.9,57.3 Q163.1,64.3 173.3,57.3" fill="none" stroke="#e8fbe8" stroke-width="3.6" filter="url(#bl4)" opacity="0.9"/><path d="M178.1,45.7 C181.1,66.9 205.4,66.9 208.4,45.7 L208.4,24.9 L178.1,24.9 Z" fill="url(#face)"/><path d="M178.1,45.7 C181.1,66.9 205.4,66.9 208.4,45.7" fill="none" stroke="#3cc849" stroke-width="5" filter="url(#bl4)"/><path d="M178.1,45.7 C181.1,66.9 205.4,66.9 208.4,45.7" fill="none" stroke="#b8f4bc" stroke-width="1.8" filter="url(#bl)"/><path d="M183.0,57.4 Q193.3,64.4 203.6,57.4" fill="none" stroke="#e8fbe8" stroke-width="3.6" filter="url(#bl4)" opacity="0.9"/><path d="M208.4,45.8 C211.5,67.0 236.3,67.0 239.4,45.8 L239.4,25.0 L208.4,25.0 Z" fill="url(#face)"/><path d="M208.4,45.8 C211.5,67.0 236.3,67.0 239.4,45.8" fill="none" stroke="#3cc849" stroke-width="5" filter="url(#bl4)"/><path d="M208.4,45.8 C211.5,67.0 236.3,67.0 239.4,45.8" fill="none" stroke="#b8f4bc" stroke-width="1.8" filter="url(#bl)"/><path d="M213.4,57.5 Q223.9,64.5 234.4,57.5" fill="none" stroke="#e8fbe8" stroke-width="3.6" filter="url(#bl4)" opacity="0.9"/><path d="M239.4,49.8 C242.3,69.5 265.6,69.5 268.5,49.8 L268.5,27.5 L239.4,27.5 Z" fill="url(#face)"/><path d="M239.4,49.8 C242.3,69.5 265.6,69.5 268.5,49.8" fill="none" stroke="#3cc849" stroke-width="5" filter="url(#bl4)"/><path d="M239.4,49.8 C242.3,69.5 265.6,69.5 268.5,49.8" fill="none" stroke="#b8f4bc" stroke-width="1.8" filter="url(#bl)"/><path d="M244.0,60.0 Q253.9,67.0 263.8,60.0" fill="none" stroke="#e8fbe8" stroke-width="3.6" filter="url(#bl4)" opacity="0.9"/><path d="M-18.0,37.4 C-14.8,55.7 10.4,55.7 13.6,37.4 L13.6,13.7 L-18.0,13.7 Z" fill="url(#face)"/><path d="M-18.0,37.4 C-14.8,55.7 10.4,55.7 13.6,37.4" fill="none" stroke="#3cc849" stroke-width="5" filter="url(#bl4)"/><path d="M-18.0,37.4 C-14.8,55.7 10.4,55.7 13.6,37.4" fill="none" stroke="#b8f4bc" stroke-width="1.8" filter="url(#bl)"/><path d="M-12.9,46.2 Q-2.2,53.2 8.5,46.2" fill="none" stroke="#e8fbe8" stroke-width="3.6" filter="url(#bl4)" opacity="0.9"/><path d="M13.6,34.8 C16.7,53.3 41.5,53.3 44.6,34.8 L44.6,11.3 L13.6,11.3 Z" fill="url(#face)"/><path d="M13.6,34.8 C16.7,53.3 41.5,53.3 44.6,34.8" fill="none" stroke="#3cc849" stroke-width="5" filter="url(#bl4)"/><path d="M13.6,34.8 C16.7,53.3 41.5,53.3 44.6,34.8" fill="none" stroke="#b8f4bc" stroke-width="1.8" filter="url(#bl)"/><path d="M18.5,43.8 Q29.1,50.8 39.6,43.8" fill="none" stroke="#e8fbe8" stroke-width="3.6" filter="url(#bl4)" opacity="0.9"/><path d="M44.6,32.2 C47.2,54.8 67.9,54.8 70.5,32.2 L70.5,12.8 L44.6,12.8 Z" fill="url(#face)"/><path d="M44.6,32.2 C47.2,54.8 67.9,54.8 70.5,32.2" fill="none" stroke="#3cc849" stroke-width="5" filter="url(#bl4)"/><path d="M44.6,32.2 C47.2,54.8 67.9,54.8 70.5,32.2" fill="none" stroke="#b8f4bc" stroke-width="1.8" filter="url(#bl)"/><path d="M48.8,45.3 Q57.6,52.3 66.4,45.3" fill="none" stroke="#e8fbe8" stroke-width="3.6" filter="url(#bl4)" opacity="0.9"/><path d="M70.5,36.2 C72.9,54.2 91.6,54.2 93.9,36.2 L93.9,12.2 L70.5,12.2 Z" fill="url(#face)"/><path d="M70.5,36.2 C72.9,54.2 91.6,54.2 93.9,36.2" fill="none" stroke="#3cc849" stroke-width="5" filter="url(#bl4)"/><path d="M70.5,36.2 C72.9,54.2 91.6,54.2 93.9,36.2" fill="none" stroke="#b8f4bc" stroke-width="1.8" filter="url(#bl)"/><path d="M74.3,44.7 Q82.2,51.7 90.2,44.7" fill="none" stroke="#e8fbe8" stroke-width="3.6" filter="url(#bl4)" opacity="0.9"/><path d="M93.9,30.4 C97.0,53.0 121.1,53.0 124.1,30.4 L124.1,11.0 L93.9,11.0 Z" fill="url(#face)"/><path d="M93.9,30.4 C97.0,53.0 121.1,53.0 124.1,30.4" fill="none" stroke="#3cc849" stroke-width="5" filter="url(#bl4)"/><path d="M93.9,30.4 C97.0,53.0 121.1,53.0 124.1,30.4" fill="none" stroke="#b8f4bc" stroke-width="1.8" filter="url(#bl)"/><path d="M98.8,43.5 Q109.0,50.5 119.3,43.5" fill="none" stroke="#e8fbe8" stroke-width="3.6" filter="url(#bl4)" opacity="0.9"/><path d="M124.1,30.5 C127.4,53.7 153.7,53.7 157.0,30.5 L157.0,11.7 L124.1,11.7 Z" fill="url(#face)"/><path d="M124.1,30.5 C127.4,53.7 153.7,53.7 157.0,30.5" fill="none" stroke="#3cc849" stroke-width="5" filter="url(#bl4)"/><path d="M124.1,30.5 C127.4,53.7 153.7,53.7 157.0,30.5" fill="none" stroke="#b8f4bc" stroke-width="1.8" filter="url(#bl)"/><path d="M129.4,44.2 Q140.6,51.2 151.7,44.2" fill="none" stroke="#e8fbe8" stroke-width="3.6" filter="url(#bl4)" opacity="0.9"/><path d="M157.0,31.0 C159.6,52.0 180.5,52.0 183.1,31.0 L183.1,10.0 L157.0,10.0 Z" fill="url(#face)"/><path d="M157.0,31.0 C159.6,52.0 180.5,52.0 183.1,31.0" fill="none" stroke="#3cc849" stroke-width="5" filter="url(#bl4)"/><path d="M157.0,31.0 C159.6,52.0 180.5,52.0 183.1,31.0" fill="none" stroke="#b8f4bc" stroke-width="1.8" filter="url(#bl)"/><path d="M161.2,42.5 Q170.0,49.5 178.9,42.5" fill="none" stroke="#e8fbe8" stroke-width="3.6" filter="url(#bl4)" opacity="0.9"/><path d="M183.1,32.5 C185.4,52.5 204.0,52.5 206.3,32.5 L206.3,10.5 L183.1,10.5 Z" fill="url(#face)"/><path d="M183.1,32.5 C185.4,52.5 204.0,52.5 206.3,32.5" fill="none" stroke="#3cc849" stroke-width="5" filter="url(#bl4)"/><path d="M183.1,32.5 C185.4,52.5 204.0,52.5 206.3,32.5" fill="none" stroke="#b8f4bc" stroke-width="1.8" filter="url(#bl)"/><path d="M186.8,43.0 Q194.7,50.0 202.6,43.0" fill="none" stroke="#e8fbe8" stroke-width="3.6" filter="url(#bl4)" opacity="0.9"/><path d="M206.3,34.4 C209.2,52.3 232.5,52.3 235.5,34.4 L235.5,10.3 L206.3,10.3 Z" fill="url(#face)"/><path d="M206.3,34.4 C209.2,52.3 232.5,52.3 235.5,34.4" fill="none" stroke="#3cc849" stroke-width="5" filter="url(#bl4)"/><path d="M206.3,34.4 C209.2,52.3 232.5,52.3 235.5,34.4" fill="none" stroke="#b8f4bc" stroke-width="1.8" filter="url(#bl)"/><path d="M211.0,42.8 Q220.9,49.8 230.8,42.8" fill="none" stroke="#e8fbe8" stroke-width="3.6" filter="url(#bl4)" opacity="0.9"/><path d="M235.5,29.9 C238.6,53.0 264.0,53.0 267.2,29.9 L267.2,11.0 L235.5,11.0 Z" fill="url(#face)"/><path d="M235.5,29.9 C238.6,53.0 264.0,53.0 267.2,29.9" fill="none" stroke="#3cc849" stroke-width="5" filter="url(#bl4)"/><path d="M235.5,29.9 C238.6,53.0 264.0,53.0 267.2,29.9" fill="none" stroke="#b8f4bc" stroke-width="1.8" filter="url(#bl)"/><path d="M240.5,43.5 Q251.3,50.5 262.1,43.5" fill="none" stroke="#e8fbe8" stroke-width="3.6" filter="url(#bl4)" opacity="0.9"/><path d="M-0.2,21.8 C2.9,40.1 27.4,40.1 30.5,21.8 L30.5,-1.9 L-0.2,-1.9 Z" fill="url(#face)"/><path d="M-0.2,21.8 C2.9,40.1 27.4,40.1 30.5,21.8" fill="none" stroke="#3cc849" stroke-width="5" filter="url(#bl4)"/><path d="M-0.2,21.8 C2.9,40.1 27.4,40.1 30.5,21.8" fill="none" stroke="#b8f4bc" stroke-width="1.8" filter="url(#bl)"/><path d="M4.7,30.6 Q15.1,37.6 25.6,30.6" fill="none" stroke="#e8fbe8" stroke-width="3.6" filter="url(#bl4)" opacity="0.9"/><path d="M30.5,14.4 C32.8,37.5 51.2,37.5 53.5,14.4 L53.5,-4.5 L30.5,-4.5 Z" fill="url(#face)"/><path d="M30.5,14.4 C32.8,37.5 51.2,37.5 53.5,14.4" fill="none" stroke="#3cc849" stroke-width="5" filter="url(#bl4)"/><path d="M30.5,14.4 C32.8,37.5 51.2,37.5 53.5,14.4" fill="none" stroke="#b8f4bc" stroke-width="1.8" filter="url(#bl)"/><path d="M34.1,28.0 Q42.0,35.0 49.8,28.0" fill="none" stroke="#e8fbe8" stroke-width="3.6" filter="url(#bl4)" opacity="0.9"/><path d="M53.5,19.7 C56.1,39.1 76.8,39.1 79.4,19.7 L79.4,-2.9 L53.5,-2.9 Z" fill="url(#face)"/><path d="M53.5,19.7 C56.1,39.1 76.8,39.1 79.4,19.7" fill="none" stroke="#3cc849" stroke-width="5" filter="url(#bl4)"/><path d="M53.5,19.7 C56.1,39.1 76.8,39.1 79.4,19.7" fill="none" stroke="#b8f4bc" stroke-width="1.8" filter="url(#bl)"/><path d="M57.6,29.6 Q66.4,36.6 75.2,29.6" fill="none" stroke="#e8fbe8" stroke-width="3.6" filter="url(#bl4)" opacity="0.9"/><path d="M79.4,18.5 C82.0,38.1 103.3,38.1 105.9,18.5 L105.9,-3.9 L79.4,-3.9 Z" fill="url(#face)"/><path d="M79.4,18.5 C82.0,38.1 103.3,38.1 105.9,18.5" fill="none" stroke="#3cc849" stroke-width="5" filter="url(#bl4)"/><path d="M79.4,18.5 C82.0,38.1 103.3,38.1 105.9,18.5" fill="none" stroke="#b8f4bc" stroke-width="1.8" filter="url(#bl)"/><path d="M83.6,28.6 Q92.7,35.6 101.7,28.6" fill="none" stroke="#e8fbe8" stroke-width="3.6" filter="url(#bl4)" opacity="0.9"/><path d="M105.9,16.2 C108.7,38.9 130.5,38.9 133.3,16.2 L133.3,-3.1 L105.9,-3.1 Z" fill="url(#face)"/><path d="M105.9,16.2 C108.7,38.9 130.5,38.9 133.3,16.2" fill="none" stroke="#3cc849" stroke-width="5" filter="url(#bl4)"/><path d="M105.9,16.2 C108.7,38.9 130.5,38.9 133.3,16.2" fill="none" stroke="#b8f4bc" stroke-width="1.8" filter="url(#bl)"/><path d="M110.3,29.4 Q119.6,36.4 128.9,29.4" fill="none" stroke="#e8fbe8" stroke-width="3.6" filter="url(#bl4)" opacity="0.9"/><path d="M133.3,17.8 C136.1,40.3 158.7,40.3 161.5,17.8 L161.5,-1.7 L133.3,-1.7 Z" fill="url(#face)"/><path d="M133.3,17.8 C136.1,40.3 158.7,40.3 161.5,17.8" fill="none" stroke="#3cc849" stroke-width="5" filter="url(#bl4)"/><path d="M133.3,17.8 C136.1,40.3 158.7,40.3 161.5,17.8" fill="none" stroke="#b8f4bc" stroke-width="1.8" filter="url(#bl)"/><path d="M137.8,30.8 Q147.4,37.8 157.0,30.8" fill="none" stroke="#e8fbe8" stroke-width="3.6" filter="url(#bl4)" opacity="0.9"/><path d="M161.5,20.7 C164.6,39.3 189.6,39.3 192.7,20.7 L192.7,-2.7 L161.5,-2.7 Z" fill="url(#face)"/><path d="M161.5,20.7 C164.6,39.3 189.6,39.3 192.7,20.7" fill="none" stroke="#3cc849" stroke-width="5" filter="url(#bl4)"/><path d="M161.5,20.7 C164.6,39.3 189.6,39.3 192.7,20.7" fill="none" stroke="#b8f4bc" stroke-width="1.8" filter="url(#bl)"/><path d="M166.5,29.8 Q177.1,36.8 187.7,29.8" fill="none" stroke="#e8fbe8" stroke-width="3.6" filter="url(#bl4)" opacity="0.9"/><path d="M192.7,17.7 C195.7,40.5 219.6,40.5 222.6,17.7 L222.6,-1.5 L192.7,-1.5 Z" fill="url(#face)"/><path d="M192.7,17.7 C195.7,40.5 219.6,40.5 222.6,17.7" fill="none" stroke="#3cc849" stroke-width="5" filter="url(#bl4)"/><path d="M192.7,17.7 C195.7,40.5 219.6,40.5 222.6,17.7" fill="none" stroke="#b8f4bc" stroke-width="1.8" filter="url(#bl)"/><path d="M197.5,31.0 Q207.7,38.0 217.8,31.0" fill="none" stroke="#e8fbe8" stroke-width="3.6" filter="url(#bl4)" opacity="0.9"/><path d="M222.6,20.6 C225.3,39.5 247.1,39.5 249.8,20.6 L249.8,-2.5 L222.6,-2.5 Z" fill="url(#face)"/><path d="M222.6,20.6 C225.3,39.5 247.1,39.5 249.8,20.6" fill="none" stroke="#3cc849" stroke-width="5" filter="url(#bl4)"/><path d="M222.6,20.6 C225.3,39.5 247.1,39.5 249.8,20.6" fill="none" stroke="#b8f4bc" stroke-width="1.8" filter="url(#bl)"/><path d="M227.0,30.0 Q236.2,37.0 245.4,30.0" fill="none" stroke="#e8fbe8" stroke-width="3.6" filter="url(#bl4)" opacity="0.9"/><path d="M249.8,19.6 C252.7,38.9 276.5,38.9 279.4,19.6 L279.4,-3.1 L249.8,-3.1 Z" fill="url(#face)"/><path d="M249.8,19.6 C252.7,38.9 276.5,38.9 279.4,19.6" fill="none" stroke="#3cc849" stroke-width="5" filter="url(#bl4)"/><path d="M249.8,19.6 C252.7,38.9 276.5,38.9 279.4,19.6" fill="none" stroke="#b8f4bc" stroke-width="1.8" filter="url(#bl)"/><path d="M254.5,29.4 Q264.6,36.4 274.7,29.4" fill="none" stroke="#e8fbe8" stroke-width="3.6" filter="url(#bl4)" opacity="0.9"/><path d="M-13.6,1.9 C-11.1,23.0 9.3,23.0 11.8,1.9 L11.8,-19.0 L-13.6,-19.0 Z" fill="url(#face)"/><path d="M-13.6,1.9 C-11.1,23.0 9.3,23.0 11.8,1.9" fill="none" stroke="#3cc849" stroke-width="5" filter="url(#bl4)"/><path d="M-13.6,1.9 C-11.1,23.0 9.3,23.0 11.8,1.9" fill="none" stroke="#b8f4bc" stroke-width="1.8" filter="url(#bl)"/><path d="M-9.5,13.5 Q-0.9,20.5 7.7,13.5" fill="none" stroke="#e8fbe8" stroke-width="3.6" filter="url(#bl4)" opacity="0.9"/><path d="M11.8,4.0 C14.4,21.8 35.3,21.8 37.9,4.0 L37.9,-20.2 L11.8,-20.2 Z" fill="url(#face)"/><path d="M11.8,4.0 C14.4,21.8 35.3,21.8 37.9,4.0" fill="none" stroke="#3cc849" stroke-width="5" filter="url(#bl4)"/><path d="M11.8,4.0 C14.4,21.8 35.3,21.8 37.9,4.0" fill="none" stroke="#b8f4bc" stroke-width="1.8" filter="url(#bl)"/><path d="M16.0,12.3 Q24.9,19.3 33.8,12.3" fill="none" stroke="#e8fbe8" stroke-width="3.6" filter="url(#bl4)" opacity="0.9"/><path d="M37.9,3.5 C40.7,22.5 63.2,22.5 66.0,3.5 L66.0,-19.5 L37.9,-19.5 Z" fill="url(#face)"/><path d="M37.9,3.5 C40.7,22.5 63.2,22.5 66.0,3.5" fill="none" stroke="#3cc849" stroke-width="5" filter="url(#bl4)"/><path d="M37.9,3.5 C40.7,22.5 63.2,22.5 66.0,3.5" fill="none" stroke="#b8f4bc" stroke-width="1.8" filter="url(#bl)"/><path d="M42.4,13.0 Q52.0,20.0 61.5,13.0" fill="none" stroke="#e8fbe8" stroke-width="3.6" filter="url(#bl4)" opacity="0.9"/><path d="M66.0,1.0 C68.9,23.4 92.5,23.4 95.4,1.0 L95.4,-18.6 L66.0,-18.6 Z" fill="url(#face)"/><path d="M66.0,1.0 C68.9,23.4 92.5,23.4 95.4,1.0" fill="none" stroke="#3cc849" stroke-width="5" filter="url(#bl4)"/><path d="M66.0,1.0 C68.9,23.4 92.5,23.4 95.4,1.0" fill="none" stroke="#b8f4bc" stroke-width="1.8" filter="url(#bl)"/><path d="M70.7,13.9 Q80.7,20.9 90.7,13.9" fill="none" stroke="#e8fbe8" stroke-width="3.6" filter="url(#bl4)" opacity="0.9"/><path d="M95.4,5.5 C97.9,24.1 117.7,24.1 120.2,5.5 L120.2,-17.9 L95.4,-17.9 Z" fill="url(#face)"/><path d="M95.4,5.5 C97.9,24.1 117.7,24.1 120.2,5.5" fill="none" stroke="#3cc849" stroke-width="5" filter="url(#bl4)"/><path d="M95.4,5.5 C97.9,24.1 117.7,24.1 120.2,5.5" fill="none" stroke="#b8f4bc" stroke-width="1.8" filter="url(#bl)"/><path d="M99.4,14.6 Q107.8,21.6 116.3,14.6" fill="none" stroke="#e8fbe8" stroke-width="3.6" filter="url(#bl4)" opacity="0.9"/><path d="M120.2,4.3 C122.8,25.0 143.8,25.0 146.4,4.3 L146.4,-17.0 L120.2,-17.0 Z" fill="url(#face)"/><path d="M120.2,4.3 C122.8,25.0 143.8,25.0 146.4,4.3" fill="none" stroke="#3cc849" stroke-width="5" filter="url(#bl4)"/><path d="M120.2,4.3 C122.8,25.0 143.8,25.0 146.4,4.3" fill="none" stroke="#b8f4bc" stroke-width="1.8" filter="url(#bl)"/><path d="M124.4,15.5 Q133.3,22.5 142.2,15.5" fill="none" stroke="#e8fbe8" stroke-width="3.6" filter="url(#bl4)" opacity="0.9"/><path d="M146.4,6.1 C149.1,24.2 170.9,24.2 173.6,6.1 L173.6,-17.8 L146.4,-17.8 Z" fill="url(#face)"/><path d="M146.4,6.1 C149.1,24.2 170.9,24.2 173.6,6.1" fill="none" stroke="#3cc849" stroke-width="5" filter="url(#bl4)"/><path d="M146.4,6.1 C149.1,24.2 170.9,24.2 173.6,6.1" fill="none" stroke="#b8f4bc" stroke-width="1.8" filter="url(#bl)"/><path d="M150.8,14.7 Q160.0,21.7 169.3,14.7" fill="none" stroke="#e8fbe8" stroke-width="3.6" filter="url(#bl4)" opacity="0.9"/><path d="M173.6,4.5 C176.3,23.9 198.2,23.9 200.9,4.5 L200.9,-18.1 L173.6,-18.1 Z" fill="url(#face)"/><path d="M173.6,4.5 C176.3,23.9 198.2,23.9 200.9,4.5" fill="none" stroke="#3cc849" stroke-width="5" filter="url(#bl4)"/><path d="M173.6,4.5 C176.3,23.9 198.2,23.9 200.9,4.5" fill="none" stroke="#b8f4bc" stroke-width="1.8" filter="url(#bl)"/><path d="M178.0,14.4 Q187.3,21.4 196.6,14.4" fill="none" stroke="#e8fbe8" stroke-width="3.6" filter="url(#bl4)" opacity="0.9"/><path d="M200.9,4.6 C203.0,25.0 219.6,25.0 221.7,4.6 L221.7,-17.0 L200.9,-17.0 Z" fill="url(#face)"/><path d="M200.9,4.6 C203.0,25.0 219.6,25.0 221.7,4.6" fill="none" stroke="#3cc849" stroke-width="5" filter="url(#bl4)"/><path d="M200.9,4.6 C203.0,25.0 219.6,25.0 221.7,4.6" fill="none" stroke="#b8f4bc" stroke-width="1.8" filter="url(#bl)"/><path d="M204.3,15.5 Q211.3,22.5 218.4,15.5" fill="none" stroke="#e8fbe8" stroke-width="3.6" filter="url(#bl4)" opacity="0.9"/><path d="M221.7,3.3 C224.4,25.0 246.0,25.0 248.7,3.3 L248.7,-17.0 L221.7,-17.0 Z" fill="url(#face)"/><path d="M221.7,3.3 C224.4,25.0 246.0,25.0 248.7,3.3" fill="none" stroke="#3cc849" stroke-width="5" filter="url(#bl4)"/><path d="M221.7,3.3 C224.4,25.0 246.0,25.0 248.7,3.3" fill="none" stroke="#b8f4bc" stroke-width="1.8" filter="url(#bl)"/><path d="M226.0,15.5 Q235.2,22.5 244.4,15.5" fill="none" stroke="#e8fbe8" stroke-width="3.6" filter="url(#bl4)" opacity="0.9"/><path d="M248.7,0.9 C251.6,23.1 274.6,23.1 277.5,0.9 L277.5,-18.9 L248.7,-18.9 Z" fill="url(#face)"/><path d="M248.7,0.9 C251.6,23.1 274.6,23.1 277.5,0.9" fill="none" stroke="#3cc849" stroke-width="5" filter="url(#bl4)"/><path d="M248.7,0.9 C251.6,23.1 274.6,23.1 277.5,0.9" fill="none" stroke="#b8f4bc" stroke-width="1.8" filter="url(#bl)"/><path d="M253.3,13.6 Q263.1,20.6 272.9,13.6" fill="none" stroke="#e8fbe8" stroke-width="3.6" filter="url(#bl4)" opacity="0.9"/><rect x="13.5" y="169.8" width="239.0" height="10.2" fill="#0d170e"/><rect x="13.5" y="177.5" width="239.0" height="1.2" fill="#2c5a30" opacity="0.7"/><rect x="13.5" y="180" width="239.0" height="16" fill="url(#lb)"/><path d="M32,166 C37,162 38,150 41.3,147.5 C44.5,150 45.5,162 50,166" fill="none" stroke="#8fe898" stroke-width="2.6" filter="url(#bl3)"/></g>
<rect x="13.5" y="15" width="239.0" height="181" fill="none" stroke="#333" stroke-width="1.2"/>
<rect x="31.5" y="145" width="17" height="39" fill="none" stroke="#111" stroke-width="1"/>
<line x1="48.5" y1="145" x2="252" y2="208.5" stroke="#222" stroke-width="1"/>
<line x1="48.5" y1="184" x2="87.5" y2="389" stroke="#444" stroke-width="1"/>
<g clip-path="url(#aclip)"><rect x="87.5" y="208.5" width="164.5" height="86" fill="url(#abg)"/><path d="M86,208 L254,208 L254,226 C246,222 240,216 230,213 C220,211 212,214 205,220 C198,224 190,218 182,214 C172,210 160,209 150,209 C138,210 128,212 118,217 C110,221 104,220 97,218 C92,217 88,216 86,216 Z" fill="#36ba42" filter="url(#bl2)"/><path d="M86.0,215.0 C88.1,215.5 95.0,217.5 98.4,218.2 C101.8,218.9 103.5,219.6 106.6,219.3 C109.7,219.0 113.6,217.4 117.0,216.2 C120.4,215.0 123.8,213.4 127.0,212.0 C130.2,210.6 134.5,208.7 136.0,208.0" fill="none" stroke="#3cc447" stroke-width="2" filter="url(#bl2)"/><path d="M176.0,214.0 C178.0,214.3 184.0,214.8 188.0,216.0 C192.0,217.2 196.3,221.2 200.0,221.0 C203.7,220.8 207.0,216.7 210.0,215.0 C213.0,213.3 214.7,211.3 218.0,211.0 C221.3,210.7 226.3,211.7 230.0,213.0 C233.7,214.3 236.2,216.8 240.0,219.0 C243.8,221.2 250.8,224.8 253.0,226.0" fill="none" stroke="#3cc447" stroke-width="2" filter="url(#bl2)"/><path d="M200.0,282.0 C202.0,278.7 208.3,269.0 212.0,262.0 C215.7,255.0 218.7,246.0 222.0,240.0 C225.3,234.0 228.7,228.7 232.0,226.0 C235.3,223.3 238.5,223.0 242.0,224.0 C245.5,225.0 251.2,230.7 253.0,232.0" fill="none" stroke="#44c850" stroke-width="2" filter="url(#bl2)" opacity="0.7"/><path d="M86.0,290.6 C88.1,290.1 93.9,288.9 98.4,287.3 C102.9,285.7 109.0,283.3 112.8,281.1 C116.6,278.9 118.8,276.8 121.0,273.9 C123.2,271.0 124.7,267.4 126.2,263.6 C127.8,259.8 128.8,255.3 130.3,251.2 C131.9,247.1 133.6,243.0 135.5,238.9 C137.4,234.8 139.5,229.7 141.7,226.5 C143.9,223.3 146.8,220.9 148.9,219.5 C151.0,218.1 152.6,218.0 154.4,217.8 C156.2,217.6 157.9,217.7 160.0,218.5 C162.1,219.3 164.1,220.0 166.8,222.4 C169.5,224.8 173.4,228.9 176.0,232.7 C178.6,236.5 180.6,241.2 182.3,245.0 C184.0,248.8 185.0,252.3 186.4,255.4 C187.8,258.5 188.6,260.9 190.5,263.6 C192.4,266.4 194.8,269.2 197.7,271.9 C200.6,274.6 204.3,277.6 208.0,280.0 C211.7,282.4 215.3,284.7 220.0,286.3 C224.7,287.9 230.3,288.8 236.0,289.5 C241.7,290.2 251.0,290.3 254.0,290.5 L254,296 L86,296 Z" fill="url(#bump)"/><path d="M86.0,290.6 C88.1,290.1 93.9,288.9 98.4,287.3 C102.9,285.7 109.0,283.3 112.8,281.1 C116.6,278.9 118.8,276.8 121.0,273.9 C123.2,271.0 124.7,267.4 126.2,263.6 C127.8,259.8 128.8,255.3 130.3,251.2 C131.9,247.1 133.6,243.0 135.5,238.9 C137.4,234.8 139.5,229.7 141.7,226.5 C143.9,223.3 146.8,220.9 148.9,219.5 C151.0,218.1 152.6,218.0 154.4,217.8 C156.2,217.6 157.9,217.7 160.0,218.5 C162.1,219.3 164.1,220.0 166.8,222.4 C169.5,224.8 173.4,228.9 176.0,232.7 C178.6,236.5 180.6,241.2 182.3,245.0 C184.0,248.8 185.0,252.3 186.4,255.4 C187.8,258.5 188.6,260.9 190.5,263.6 C192.4,266.4 194.8,269.2 197.7,271.9 C200.6,274.6 204.3,277.6 208.0,280.0 C211.7,282.4 215.3,284.7 220.0,286.3 C224.7,287.9 230.3,288.8 236.0,289.5 C241.7,290.2 251.0,290.3 254.0,290.5" fill="none" stroke="#46d052" stroke-width="8" filter="url(#bl2)" transform="translate(-3,0)" opacity="0.75"/><path d="M86.0,290.6 C88.1,290.1 93.9,288.9 98.4,287.3 C102.9,285.7 109.0,283.3 112.8,281.1 C116.6,278.9 118.8,276.8 121.0,273.9 C123.2,271.0 124.7,267.4 126.2,263.6 C127.8,259.8 128.8,255.3 130.3,251.2 C131.9,247.1 133.6,243.0 135.5,238.9 C137.4,234.8 139.5,229.7 141.7,226.5 C143.9,223.3 146.8,220.9 148.9,219.5 C151.0,218.1 152.6,218.0 154.4,217.8 C156.2,217.6 157.9,217.7 160.0,218.5 C162.1,219.3 164.1,220.0 166.8,222.4 C169.5,224.8 173.4,228.9 176.0,232.7 C178.6,236.5 180.6,241.2 182.3,245.0 C184.0,248.8 185.0,252.3 186.4,255.4 C187.8,258.5 188.6,260.9 190.5,263.6 C192.4,266.4 194.8,269.2 197.7,271.9 C200.6,274.6 204.3,277.6 208.0,280.0 C211.7,282.4 215.3,284.7 220.0,286.3 C224.7,287.9 230.3,288.8 236.0,289.5 C241.7,290.2 251.0,290.3 254.0,290.5" fill="none" stroke="#5fe86a" stroke-width="2" filter="url(#bl)"/><rect x="87.5" y="290" width="164.5" height="4.5" fill="#17701f"/><rect x="87.5" y="294.5" width="164.5" height="26" fill="#f3e612"/><rect x="87.5" y="320.5" width="164.5" height="27.5" fill="#4c8dd3"/><rect x="87.5" y="347.5" width="164.5" height="6.5" fill="#74d6f4"/><rect x="87.5" y="353.5" width="164.5" height="1.5" fill="#3f78c0"/><rect x="87.5" y="355" width="164.5" height="7.5" fill="#eaa81a"/><rect x="87.5" y="362" width="164.5" height="4" fill="#a08a1c"/><rect x="87.5" y="366" width="164.5" height="23" fill="#ece01a"/></g>
<rect x="87.5" y="208.5" width="164.5" height="180.5" fill="none" stroke="#333" stroke-width="1.2"/>
<line x1="157.3" y1="220" x2="157.3" y2="293" stroke="#111" stroke-width="1.2"/>
<line x1="211" y1="341" x2="211" y2="352" stroke="#333" stroke-width="0.8"/>
<line x1="231" y1="360" x2="231" y2="381" stroke="#4a3a10" stroke-width="0.9"/>
<text x="105.6" y="264.6" font-family="Liberation Sans, Arial, sans-serif" font-size="13.7" font-weight="bold" fill="#0c160c">714 nm</text>
<text x="159.6" y="261.7" font-family="Liberation Sans, Arial, sans-serif" font-size="9.8" font-weight="bold" fill="#0c160c">TiO<tspan font-size="7.5" dy="2.2">2</tspan></text>
<text x="159.2" y="275" font-family="Liberation Sans, Arial, sans-serif" font-size="10.6" font-weight="bold" fill="#0c160c">Nanostructure</text>
<text x="104.4" y="313.6" font-family="Liberation Sans, Arial, sans-serif" font-size="13.9" font-weight="bold" fill="#3e3514">230 nm</text>
<text x="169.3" y="313.6" font-family="Liberation Sans, Arial, sans-serif" font-size="14.1" font-weight="bold" fill="#3e3514">IZO Contact</text>
<text x="103.6" y="341" font-family="Liberation Sans, Arial, sans-serif" font-size="13.9" font-weight="bold" fill="#34445e">260 nm</text>
<text x="180" y="341" font-family="Liberation Sans, Arial, sans-serif" font-size="13.6" font-weight="bold" fill="#34445e">a-Si</text>
<text x="234.2" y="334" font-family="Liberation Sans, Arial, sans-serif" font-size="11.5" font-weight="bold" fill="#34445e" text-anchor="middle">AZO</text>
<text x="232.9" y="344.6" font-family="Liberation Sans, Arial, sans-serif" font-size="11.5" font-weight="bold" fill="#34445e" text-anchor="middle">60 nm</text>
<text x="131.4" y="376.9" font-family="Liberation Sans, Arial, sans-serif" font-size="13.5" font-weight="bold" fill="#4f4513" text-anchor="middle">Glass</text>
<text x="131.7" y="387.8" font-family="Liberation Sans, Arial, sans-serif" font-size="13.7" font-weight="bold" fill="#4f4513" text-anchor="middle">Substrate</text>
<text x="187.3" y="381.2" font-family="Liberation Sans, Arial, sans-serif" font-size="11.5" font-weight="bold" fill="#4f4513">120 nm</text>
<text x="236.4" y="381.6" font-family="Liberation Sans, Arial, sans-serif" font-size="13" font-weight="bold" fill="#4f4513">Al</text>
<text x="21" y="227.4" font-family="Liberation Sans, Arial, sans-serif" font-size="19" fill="#111">a)</text>
<text x="257.5" y="31" font-family="Liberation Sans, Arial, sans-serif" font-size="18" fill="#111">b)</text>
<text x="257" y="230" font-family="Liberation Sans, Arial, sans-serif" font-size="18" fill="#111">c)</text>
<rect x="291.5" y="14.5" width="243.5" height="180.2" fill="none" stroke="#555" stroke-width="1.1"/>
<path d="M291.5,178.3h2 M291.5,161.9h3 M291.5,145.5h2 M291.5,129.1h3 M291.5,112.7h2 M291.5,96.3h3 M291.5,79.9h2 M291.5,63.5h3 M291.5,47.1h2 M291.5,30.7h3 M318.6,194.7v-2 M345.6,194.7v-3 M372.6,194.7v-2 M399.6,194.7v-3 M426.6,194.7v-2 M453.6,194.7v-3 M480.6,194.7v-2 M507.6,194.7v-3" stroke="#555" stroke-width="1" fill="none"/>
<text x="286.7" y="33.8" font-family="Liberation Sans, Arial, sans-serif" font-size="10.2" font-weight="bold" fill="#2a2a2a" text-anchor="end">10</text>
<text x="286.7" y="66.6" font-family="Liberation Sans, Arial, sans-serif" font-size="10.2" font-weight="bold" fill="#2a2a2a" text-anchor="end">8</text>
<text x="286.7" y="99.4" font-family="Liberation Sans, Arial, sans-serif" font-size="10.2" font-weight="bold" fill="#2a2a2a" text-anchor="end">6</text>
<text x="286.7" y="132.2" font-family="Liberation Sans, Arial, sans-serif" font-size="10.2" font-weight="bold" fill="#2a2a2a" text-anchor="end">4</text>
<text x="286.7" y="165.0" font-family="Liberation Sans, Arial, sans-serif" font-size="10.2" font-weight="bold" fill="#2a2a2a" text-anchor="end">2</text>
<text x="345.6" y="188.2" font-family="Liberation Sans, Arial, sans-serif" font-size="10.5" fill="#111" text-anchor="middle">0.2</text>
<text x="399.6" y="188.2" font-family="Liberation Sans, Arial, sans-serif" font-size="10.5" fill="#111" text-anchor="middle">0.4</text>
<text x="453.6" y="188.2" font-family="Liberation Sans, Arial, sans-serif" font-size="10.5" fill="#111" text-anchor="middle">0.6</text>
<text x="507.6" y="188.2" font-family="Liberation Sans, Arial, sans-serif" font-size="10.5" fill="#111" text-anchor="middle">0.8</text>
<text x="378.3" y="205.8" font-family="Liberation Sans, Arial, sans-serif" font-size="8.6" font-weight="bold" fill="#222" textLength="60.7" lengthAdjust="spacing">Voltage (V)</text>
<text transform="translate(274.2,186.1) rotate(-90)" font-family="Liberation Sans, Arial, sans-serif" font-size="9.3" font-weight="bold" fill="#222">Current Density (mA/cm<tspan font-size="6" dy="-3.5">2</tspan><tspan dy="3.5">)</tspan></text>
<g clip-path="url(#bclip)">
<path d="M271.9,47.6 L273.0,47.7 L274.1,47.8 L275.2,47.9 L276.3,48.0 L277.4,48.1 L278.4,48.2 L279.5,48.3 L280.6,48.4 L281.7,48.5 L282.8,48.6 L283.9,48.7 L284.9,48.8 L286.0,48.9 L287.1,49.0 L288.2,49.1 L289.3,49.2 L290.4,49.3 L291.5,49.4 L292.5,49.5 L293.6,49.5 L294.7,49.6 L295.8,49.7 L296.9,49.8 L298.0,49.9 L299.0,50.0 L300.1,50.1 L301.2,50.2 L302.3,50.3 L303.4,50.4 L304.5,50.5 L305.5,50.6 L306.6,50.7 L307.7,50.8 L308.8,50.9 L309.9,51.0 L311.0,51.1 L312.0,51.2 L313.1,51.3 L314.2,51.4 L315.3,51.5 L316.4,51.6 L317.5,51.7 L318.6,51.8 L319.6,51.9 L320.7,52.0 L321.8,52.1 L322.9,52.2 L324.0,52.3 L325.1,52.4 L326.1,52.5 L327.2,52.6 L328.3,52.7 L329.4,52.8 L330.5,52.9 L331.6,53.0 L332.6,53.1 L333.7,53.2 L334.8,53.3 L335.9,53.4 L337.0,53.5 L338.1,53.6 L339.2,53.7 L340.2,53.8 L341.3,53.9 L342.4,54.0 L343.5,54.1 L344.6,54.2 L345.7,54.4 L346.7,54.5 L347.8,54.6 L348.9,54.7 L350.0,54.8 L351.1,54.9 L352.2,55.0 L353.3,55.1 L354.3,55.2 L355.4,55.3 L356.5,55.4 L357.6,55.5 L358.7,55.6 L359.8,55.8 L360.8,55.9 L361.9,56.0 L363.0,56.1 L364.1,56.2 L365.2,56.3 L366.3,56.4 L367.4,56.6 L368.4,56.7 L369.5,56.8 L370.6,56.9 L371.7,57.0 L372.8,57.2 L373.9,57.3 L374.9,57.4 L376.0,57.5 L377.1,57.7 L378.2,57.8 L379.3,57.9 L380.4,58.0 L381.5,58.2 L382.5,58.3 L383.6,58.4 L384.7,58.6 L385.8,58.7 L386.9,58.8 L388.0,59.0 L389.1,59.1 L390.1,59.3 L391.2,59.4 L392.3,59.6 L393.4,59.7 L394.5,59.9 L395.6,60.0 L396.7,60.2 L397.8,60.3 L398.8,60.5 L399.9,60.6 L401.0,60.8 L402.1,61.0 L403.2,61.1 L404.3,61.3 L405.4,61.5 L406.4,61.7 L407.5,61.9 L408.6,62.1 L409.7,62.2 L410.8,62.4 L411.9,62.6 L413.0,62.8 L414.1,63.0 L415.2,63.3 L416.2,63.5 L417.3,63.7 L418.4,63.9 L419.5,64.2 L420.6,64.4 L421.7,64.6 L422.8,64.9 L423.9,65.1 L425.0,65.4 L426.1,65.7 L427.1,65.9 L428.2,66.2 L429.3,66.5 L430.4,66.8 L431.5,67.1 L432.6,67.4 L433.7,67.7 L434.8,68.1 L435.9,68.4 L437.0,68.8 L438.1,69.1 L439.2,69.5 L440.3,69.9 L441.4,70.3 L442.5,70.7 L443.6,71.1 L444.7,71.5 L445.8,71.9 L446.9,72.4 L448.0,72.9 L449.1,73.4 L450.2,73.9 L451.3,74.4 L452.4,74.9 L453.5,75.5 L454.6,76.0 L455.7,76.6 L456.8,77.2 L457.9,77.8 L459.0,78.5 L460.1,79.2 L461.2,79.9 L462.3,80.6 L463.4,81.3 L464.5,82.1 L465.7,82.9 L466.8,83.7 L467.9,84.5 L469.0,85.4 L470.1,86.3 L471.2,87.3 L472.4,88.3 L473.5,89.3 L474.6,90.3 L475.7,91.4 L476.9,92.5 L478.0,93.7 L479.1,94.9 L480.3,96.2 L481.4,97.5 L482.5,98.8 L483.7,100.2 L484.8,101.7 L485.9,103.2 L487.1,104.7 L488.2,106.3 L489.4,108.0 L490.5,109.8 L491.7,111.6 L492.9,113.5 L494.0,115.4 L495.2,117.4 L496.4,119.5 L497.5,121.7 L498.7,123.9 L499.9,126.3 L501.1,128.7 L502.2,131.3 L503.4,133.9 L504.6,136.6 L505.8,139.4 L507.0,142.4 L508.2,145.4 L509.4,148.6 L510.7,151.9 L511.9,155.3 L513.1,158.8 L514.4,162.5 L515.6,166.4 L516.8,170.3 L518.1,174.5 L519.4,178.8 L520.6,183.2 L521.9,187.9 L523.2,192.7 L524.5,197.7 L525.8,202.9" fill="none" stroke="#555555" stroke-width="1.5"/>
<path d="M278.8,21.2 L279.9,21.3 L281.0,21.5 L282.1,21.6 L283.1,21.7 L284.2,21.9 L285.3,22.0 L286.4,22.1 L287.5,22.3 L288.5,22.4 L289.6,22.6 L290.7,22.7 L291.8,22.8 L292.9,23.0 L293.9,23.1 L295.0,23.2 L296.1,23.4 L297.2,23.5 L298.3,23.6 L299.3,23.8 L300.4,23.9 L301.5,24.1 L302.6,24.2 L303.7,24.3 L304.7,24.5 L305.8,24.6 L306.9,24.8 L308.0,24.9 L309.0,25.0 L310.1,25.2 L311.2,25.3 L312.3,25.5 L313.4,25.6 L314.4,25.8 L315.5,25.9 L316.6,26.0 L317.7,26.2 L318.8,26.3 L319.8,26.5 L320.9,26.6 L322.0,26.8 L323.1,26.9 L324.2,27.1 L325.2,27.2 L326.3,27.4 L327.4,27.5 L328.5,27.7 L329.6,27.8 L330.6,28.0 L331.7,28.1 L332.8,28.3 L333.9,28.4 L335.0,28.6 L336.0,28.7 L337.1,28.9 L338.2,29.1 L339.3,29.2 L340.4,29.4 L341.4,29.5 L342.5,29.7 L343.6,29.9 L344.7,30.0 L345.7,30.2 L346.8,30.3 L347.9,30.5 L349.0,30.7 L350.1,30.9 L351.1,31.0 L352.2,31.2 L353.3,31.4 L354.4,31.5 L355.5,31.7 L356.5,31.9 L357.6,32.1 L358.7,32.2 L359.8,32.4 L360.9,32.6 L361.9,32.8 L363.0,33.0 L364.1,33.2 L365.2,33.4 L366.3,33.5 L367.3,33.7 L368.4,33.9 L369.5,34.1 L370.6,34.3 L371.6,34.5 L372.7,34.7 L373.8,34.9 L374.9,35.1 L376.0,35.4 L377.0,35.6 L378.1,35.8 L379.2,36.0 L380.3,36.2 L381.4,36.4 L382.4,36.7 L383.5,36.9 L384.6,37.1 L385.7,37.4 L386.8,37.6 L387.8,37.8 L388.9,38.1 L390.0,38.3 L391.1,38.6 L392.2,38.8 L393.2,39.1 L394.3,39.3 L395.4,39.6 L396.5,39.9 L397.5,40.1 L398.6,40.4 L399.7,40.7 L400.8,41.0 L401.9,41.3 L402.9,41.6 L404.0,41.9 L405.1,42.2 L406.2,42.5 L407.3,42.8 L408.3,43.1 L409.4,43.4 L410.5,43.8 L411.6,44.1 L412.6,44.5 L413.7,44.8 L414.8,45.2 L415.9,45.5 L417.0,45.9 L418.0,46.3 L419.1,46.7 L420.2,47.0 L421.3,47.4 L422.4,47.8 L423.4,48.3 L424.5,48.7 L425.6,49.1 L426.7,49.6 L427.7,50.0 L428.8,50.5 L429.9,50.9 L431.0,51.4 L432.1,51.9 L433.1,52.4 L434.2,52.9 L435.3,53.4 L436.4,53.9 L437.4,54.5 L438.5,55.0 L439.6,55.6 L440.7,56.2 L441.8,56.8 L442.8,57.4 L443.9,58.0 L445.0,58.6 L446.1,59.3 L447.1,59.9 L448.2,60.6 L449.3,61.3 L450.4,62.0 L451.5,62.7 L452.5,63.5 L453.6,64.2 L454.7,65.0 L455.8,65.8 L456.8,66.6 L457.9,67.5 L459.0,68.3 L460.1,69.2 L461.1,70.1 L462.2,71.0 L463.3,72.0 L464.4,72.9 L465.4,73.9 L466.5,74.9 L467.6,76.0 L468.7,77.0 L469.7,78.1 L470.8,79.3 L471.9,80.4 L473.0,81.6 L474.0,82.8 L475.1,84.0 L476.2,85.3 L477.3,86.6 L478.3,88.0 L479.4,89.3 L480.5,90.7 L481.6,92.2 L482.6,93.7 L483.7,95.2 L484.8,96.8 L485.9,98.4 L486.9,100.0 L488.0,101.7 L489.1,103.4 L490.2,105.2 L491.2,107.0 L492.3,108.9 L493.4,110.9 L494.4,112.8 L495.5,114.9 L496.6,117.0 L497.7,119.1 L498.7,121.3 L499.8,123.6 L500.9,125.9 L501.9,128.3 L503.0,130.7 L504.1,133.2 L505.1,135.8 L506.2,138.5 L507.3,141.2 L508.4,144.0 L509.4,146.9 L510.5,149.8 L511.6,152.9 L512.6,156.0 L513.7,159.2 L514.8,162.5 L515.8,165.9 L516.9,169.4 L518.0,173.0 L519.0,176.6 L520.1,180.4 L521.1,184.3 L522.2,188.3 L523.3,192.4 L524.3,196.6 L525.4,200.9" fill="none" stroke="#1414e6" stroke-width="1.5"/>
<path d="M259.9,18.0 L261.0,18.2 L262.1,18.3 L263.2,18.4 L264.3,18.6 L265.4,18.7 L266.5,18.8 L267.6,19.0 L268.7,19.1 L269.8,19.2 L270.9,19.4 L271.9,19.5 L273.0,19.6 L274.1,19.8 L275.2,19.9 L276.3,20.0 L277.4,20.2 L278.5,20.3 L279.6,20.4 L280.7,20.5 L281.8,20.7 L282.9,20.8 L284.0,20.9 L285.1,21.1 L286.2,21.2 L287.3,21.3 L288.4,21.5 L289.4,21.6 L290.5,21.7 L291.6,21.9 L292.7,22.0 L293.8,22.1 L294.9,22.3 L296.0,22.4 L297.1,22.5 L298.2,22.7 L299.3,22.8 L300.4,22.9 L301.5,23.1 L302.6,23.2 L303.7,23.3 L304.8,23.5 L305.9,23.6 L306.9,23.7 L308.0,23.9 L309.1,24.0 L310.2,24.1 L311.3,24.3 L312.4,24.4 L313.5,24.5 L314.6,24.7 L315.7,24.8 L316.8,24.9 L317.9,25.1 L319.0,25.2 L320.1,25.4 L321.2,25.5 L322.3,25.6 L323.4,25.8 L324.4,25.9 L325.5,26.0 L326.6,26.2 L327.7,26.3 L328.8,26.5 L329.9,26.6 L331.0,26.7 L332.1,26.9 L333.2,27.0 L334.3,27.1 L335.4,27.3 L336.5,27.4 L337.6,27.6 L338.7,27.7 L339.8,27.9 L340.9,28.0 L342.0,28.1 L343.1,28.3 L344.1,28.4 L345.2,28.6 L346.3,28.7 L347.4,28.9 L348.5,29.0 L349.6,29.1 L350.7,29.3 L351.8,29.4 L352.9,29.6 L354.0,29.7 L355.1,29.9 L356.2,30.0 L357.3,30.2 L358.4,30.3 L359.5,30.5 L360.6,30.7 L361.7,30.8 L362.8,31.0 L363.9,31.1 L365.0,31.3 L366.1,31.4 L367.2,31.6 L368.3,31.8 L369.3,31.9 L370.4,32.1 L371.5,32.3 L372.6,32.4 L373.7,32.6 L374.8,32.8 L375.9,32.9 L377.0,33.1 L378.1,33.3 L379.2,33.5 L380.3,33.7 L381.4,33.8 L382.5,34.0 L383.6,34.2 L384.7,34.4 L385.8,34.6 L386.9,34.8 L388.0,35.0 L389.1,35.2 L390.2,35.4 L391.3,35.6 L392.4,35.8 L393.5,36.0 L394.6,36.2 L395.7,36.4 L396.8,36.7 L397.9,36.9 L399.0,37.1 L400.1,37.3 L401.3,37.6 L402.4,37.8 L403.5,38.1 L404.6,38.3 L405.7,38.6 L406.8,38.9 L407.9,39.1 L409.0,39.4 L410.1,39.7 L411.2,40.0 L412.3,40.3 L413.4,40.6 L414.5,40.9 L415.7,41.2 L416.8,41.5 L417.9,41.8 L419.0,42.2 L420.1,42.5 L421.2,42.9 L422.4,43.2 L423.5,43.6 L424.6,44.0 L425.7,44.4 L426.8,44.8 L428.0,45.2 L429.1,45.7 L430.2,46.1 L431.3,46.6 L432.5,47.0 L433.6,47.5 L434.7,48.0 L435.9,48.6 L437.0,49.1 L438.1,49.6 L439.3,50.2 L440.4,50.8 L441.6,51.4 L442.7,52.0 L443.8,52.7 L445.0,53.3 L446.1,54.0 L447.3,54.8 L448.5,55.5 L449.6,56.3 L450.8,57.0 L451.9,57.9 L453.1,58.7 L454.3,59.6 L455.4,60.5 L456.6,61.4 L457.8,62.4 L459.0,63.4 L460.2,64.5 L461.4,65.6 L462.6,66.7 L463.8,67.9 L465.0,69.1 L466.2,70.3 L467.4,71.7 L468.6,73.0 L469.8,74.4 L471.1,75.9 L472.3,77.4 L473.6,79.0 L474.8,80.6 L476.1,82.3 L477.3,84.1 L478.6,85.9 L479.9,87.8 L481.1,89.8 L482.4,91.9 L483.7,94.0 L485.0,96.2 L486.4,98.6 L487.7,101.0 L489.0,103.5 L490.4,106.1 L491.7,108.8 L493.1,111.6 L494.5,114.5 L495.9,117.5 L497.3,120.7 L498.7,124.0 L500.1,127.4 L501.6,131.0 L503.0,134.7 L504.5,138.6 L506.0,142.6 L507.5,146.8 L509.1,151.1 L510.6,155.7 L512.2,160.4 L513.8,165.3 L515.4,170.4 L517.0,175.7 L518.6,181.2 L520.3,187.0 L522.0,193.0 L523.7,199.2 L525.5,205.7" fill="none" stroke="#12e61e" stroke-width="1.5"/>
<path d="M259.2,15.0 L260.3,15.1 L261.4,15.2 L262.5,15.4 L263.6,15.5 L264.7,15.6 L265.8,15.8 L266.8,15.9 L267.9,16.0 L269.0,16.2 L270.1,16.3 L271.2,16.4 L272.3,16.6 L273.4,16.7 L274.5,16.8 L275.6,17.0 L276.7,17.1 L277.8,17.2 L278.9,17.4 L280.0,17.5 L281.1,17.6 L282.2,17.8 L283.3,17.9 L284.3,18.0 L285.4,18.2 L286.5,18.3 L287.6,18.4 L288.7,18.6 L289.8,18.7 L290.9,18.8 L292.0,19.0 L293.1,19.1 L294.2,19.2 L295.3,19.4 L296.4,19.5 L297.5,19.6 L298.6,19.8 L299.7,19.9 L300.8,20.1 L301.9,20.2 L303.0,20.3 L304.0,20.5 L305.1,20.6 L306.2,20.7 L307.3,20.9 L308.4,21.0 L309.5,21.1 L310.6,21.3 L311.7,21.4 L312.8,21.6 L313.9,21.7 L315.0,21.8 L316.1,22.0 L317.2,22.1 L318.3,22.2 L319.4,22.4 L320.5,22.5 L321.6,22.7 L322.7,22.8 L323.7,22.9 L324.8,23.1 L325.9,23.2 L327.0,23.4 L328.1,23.5 L329.2,23.6 L330.3,23.8 L331.4,23.9 L332.5,24.1 L333.6,24.2 L334.7,24.4 L335.8,24.5 L336.9,24.6 L338.0,24.8 L339.1,24.9 L340.2,25.1 L341.3,25.2 L342.4,25.4 L343.5,25.5 L344.6,25.7 L345.6,25.8 L346.7,26.0 L347.8,26.1 L348.9,26.3 L350.0,26.4 L351.1,26.6 L352.2,26.7 L353.3,26.9 L354.4,27.0 L355.5,27.2 L356.6,27.3 L357.7,27.5 L358.8,27.7 L359.9,27.8 L361.0,28.0 L362.1,28.1 L363.2,28.3 L364.3,28.5 L365.4,28.6 L366.5,28.8 L367.6,29.0 L368.7,29.1 L369.8,29.3 L370.9,29.5 L372.0,29.6 L373.1,29.8 L374.2,30.0 L375.3,30.2 L376.4,30.4 L377.5,30.5 L378.6,30.7 L379.7,30.9 L380.8,31.1 L381.9,31.3 L383.0,31.5 L384.1,31.7 L385.2,31.9 L386.3,32.1 L387.4,32.3 L388.5,32.5 L389.6,32.7 L390.7,32.9 L391.8,33.1 L392.9,33.4 L394.0,33.6 L395.1,33.8 L396.2,34.1 L397.3,34.3 L398.4,34.5 L399.5,34.8 L400.6,35.0 L401.7,35.3 L402.8,35.5 L403.9,35.8 L405.0,36.1 L406.2,36.4 L407.3,36.6 L408.4,36.9 L409.5,37.2 L410.6,37.5 L411.7,37.8 L412.8,38.2 L413.9,38.5 L415.1,38.8 L416.2,39.1 L417.3,39.5 L418.4,39.8 L419.5,40.2 L420.6,40.6 L421.8,41.0 L422.9,41.4 L424.0,41.8 L425.1,42.2 L426.3,42.6 L427.4,43.1 L428.5,43.5 L429.6,44.0 L430.8,44.5 L431.9,45.0 L433.0,45.5 L434.2,46.0 L435.3,46.5 L436.4,47.1 L437.6,47.7 L438.7,48.3 L439.9,48.9 L441.0,49.5 L442.2,50.2 L443.3,50.9 L444.5,51.6 L445.6,52.3 L446.8,53.0 L448.0,53.8 L449.1,54.6 L450.3,55.4 L451.5,56.3 L452.6,57.2 L453.8,58.1 L455.0,59.0 L456.2,60.0 L457.4,61.0 L458.5,62.1 L459.7,63.1 L460.9,64.3 L462.1,65.4 L463.3,66.6 L464.6,67.9 L465.8,69.2 L467.0,70.5 L468.2,71.9 L469.5,73.4 L470.7,74.9 L471.9,76.5 L473.2,78.1 L474.4,79.8 L475.7,81.5 L477.0,83.3 L478.3,85.2 L479.5,87.1 L480.8,89.2 L482.1,91.3 L483.4,93.5 L484.8,95.7 L486.1,98.1 L487.4,100.5 L488.8,103.1 L490.1,105.7 L491.5,108.5 L492.9,111.3 L494.3,114.3 L495.7,117.3 L497.1,120.5 L498.5,123.9 L500.0,127.3 L501.4,130.9 L502.9,134.7 L504.4,138.5 L505.9,142.6 L507.4,146.8 L509.0,151.2 L510.5,155.7 L512.1,160.4 L513.7,165.3 L515.3,170.4 L516.9,175.7 L518.6,181.3 L520.3,187.0 L522.0,193.0 L523.7,199.2 L525.5,205.7" fill="none" stroke="#22f0f0" stroke-width="1.5"/>
<path d="M271.6,20.5 L272.7,20.7 L273.8,20.8 L274.9,20.9 L276.0,21.1 L277.1,21.2 L278.2,21.3 L279.2,21.4 L280.3,21.6 L281.4,21.7 L282.5,21.8 L283.6,22.0 L284.7,22.1 L285.7,22.2 L286.8,22.3 L287.9,22.5 L289.0,22.6 L290.1,22.7 L291.2,22.9 L292.3,23.0 L293.3,23.1 L294.4,23.3 L295.5,23.4 L296.6,23.5 L297.7,23.7 L298.8,23.8 L299.9,23.9 L300.9,24.1 L302.0,24.2 L303.1,24.3 L304.2,24.4 L305.3,24.6 L306.4,24.7 L307.4,24.8 L308.5,25.0 L309.6,25.1 L310.7,25.2 L311.8,25.4 L312.9,25.5 L314.0,25.6 L315.0,25.8 L316.1,25.9 L317.2,26.0 L318.3,26.2 L319.4,26.3 L320.5,26.5 L321.6,26.6 L322.6,26.7 L323.7,26.9 L324.8,27.0 L325.9,27.1 L327.0,27.3 L328.1,27.4 L329.1,27.5 L330.2,27.7 L331.3,27.8 L332.4,28.0 L333.5,28.1 L334.6,28.2 L335.7,28.4 L336.7,28.5 L337.8,28.7 L338.9,28.8 L340.0,29.0 L341.1,29.1 L342.2,29.2 L343.3,29.4 L344.3,29.5 L345.4,29.7 L346.5,29.8 L347.6,30.0 L348.7,30.1 L349.8,30.3 L350.9,30.4 L351.9,30.6 L353.0,30.7 L354.1,30.9 L355.2,31.0 L356.3,31.2 L357.4,31.3 L358.5,31.5 L359.5,31.6 L360.6,31.8 L361.7,31.9 L362.8,32.1 L363.9,32.3 L365.0,32.4 L366.1,32.6 L367.1,32.8 L368.2,32.9 L369.3,33.1 L370.4,33.3 L371.5,33.4 L372.6,33.6 L373.7,33.8 L374.7,33.9 L375.8,34.1 L376.9,34.3 L378.0,34.5 L379.1,34.7 L380.2,34.8 L381.3,35.0 L382.4,35.2 L383.4,35.4 L384.5,35.6 L385.6,35.8 L386.7,36.0 L387.8,36.2 L388.9,36.4 L390.0,36.6 L391.0,36.8 L392.1,37.0 L393.2,37.2 L394.3,37.4 L395.4,37.6 L396.5,37.9 L397.6,38.1 L398.7,38.3 L399.8,38.6 L400.8,38.8 L401.9,39.0 L403.0,39.3 L404.1,39.5 L405.2,39.8 L406.3,40.0 L407.4,40.3 L408.5,40.6 L409.6,40.8 L410.6,41.1 L411.7,41.4 L412.8,41.7 L413.9,42.0 L415.0,42.3 L416.1,42.6 L417.2,42.9 L418.3,43.2 L419.4,43.5 L420.5,43.9 L421.6,44.2 L422.7,44.6 L423.8,44.9 L424.8,45.3 L425.9,45.6 L427.0,46.0 L428.1,46.4 L429.2,46.8 L430.3,47.2 L431.4,47.6 L432.5,48.1 L433.6,48.5 L434.7,49.0 L435.8,49.4 L436.9,49.9 L438.0,50.4 L439.1,50.9 L440.2,51.4 L441.3,51.9 L442.4,52.5 L443.5,53.0 L444.6,53.6 L445.7,54.2 L446.8,54.8 L447.9,55.4 L449.0,56.1 L450.1,56.7 L451.2,57.4 L452.3,58.1 L453.4,58.8 L454.5,59.6 L455.6,60.3 L456.8,61.1 L457.9,61.9 L459.0,62.8 L460.1,63.6 L461.2,64.5 L462.3,65.4 L463.4,66.4 L464.5,67.3 L465.7,68.3 L466.8,69.4 L467.9,70.4 L469.0,71.5 L470.1,72.7 L471.3,73.8 L472.4,75.0 L473.5,76.3 L474.6,77.6 L475.8,78.9 L476.9,80.3 L478.0,81.7 L479.2,83.1 L480.3,84.6 L481.4,86.2 L482.6,87.8 L483.7,89.5 L484.9,91.2 L486.0,93.0 L487.2,94.8 L488.3,96.7 L489.5,98.6 L490.6,100.7 L491.8,102.8 L492.9,104.9 L494.1,107.2 L495.3,109.5 L496.4,111.9 L497.6,114.3 L498.8,116.9 L500.0,119.5 L501.1,122.3 L502.3,125.1 L503.5,128.0 L504.7,131.0 L505.9,134.2 L507.1,137.4 L508.3,140.8 L509.5,144.2 L510.7,147.8 L511.9,151.5 L513.2,155.4 L514.4,159.3 L515.6,163.4 L516.9,167.7 L518.1,172.1 L519.4,176.6 L520.6,181.4 L521.9,186.2 L523.1,191.3 L524.4,196.5 L525.7,201.9" fill="none" stroke="#168c20" stroke-width="1.4"/>
</g>
<rect x="308" y="81.1" width="41.3" height="4.2" fill="#33f0f0"/>
<text x="350.4" y="87.9" font-family="Liberation Sans, Arial, sans-serif" font-size="13.5" fill="#333">T1.3</text>
<rect x="308" y="96.2" width="41.3" height="4.2" fill="#1414d8"/>
<text x="350.4" y="103.0" font-family="Liberation Sans, Arial, sans-serif" font-size="13.5" fill="#333">T1.6</text>
<rect x="308" y="111.2" width="41.3" height="4.2" fill="#33ee33"/>
<text x="350.4" y="118.0" font-family="Liberation Sans, Arial, sans-serif" font-size="13.5" fill="#333">I1.3</text>
<rect x="308" y="126.3" width="41.3" height="4.2" fill="#148a1e"/>
<text x="350.4" y="133.1" font-family="Liberation Sans, Arial, sans-serif" font-size="13.5" fill="#333">I1.6</text>
<rect x="308" y="141.3" width="41.3" height="4.2" fill="#555555"/>
<text x="350.4" y="148.1" font-family="Liberation Sans, Arial, sans-serif" font-size="13.5" fill="#333">Reference</text>
<rect x="291.5" y="215.5" width="244" height="181" fill="none" stroke="#555" stroke-width="1.1"/>
<path d="M291.5,386.1h2.5 M291.5,375.6h4 M291.5,365.2h2.5 M291.5,354.8h4 M291.5,344.4h2.5 M291.5,333.9h4 M291.5,323.5h2.5 M291.5,313.1h4 M291.5,302.7h2.5 M291.5,292.2h4 M291.5,281.8h2.5 M291.5,271.4h4 M291.5,261.0h2.5 M291.5,250.5h4 M291.5,240.1h2.5 M291.5,229.7h4 M291.5,219.3h2.5" stroke="#555" stroke-width="1" fill="none"/>
<text x="287.3" y="400.2" font-family="Liberation Sans, Arial, sans-serif" font-size="10.5" fill="#111" text-anchor="end">0</text>
<text x="287.3" y="379.3" font-family="Liberation Sans, Arial, sans-serif" font-size="10.5" fill="#111" text-anchor="end">3</text>
<text x="287.3" y="358.5" font-family="Liberation Sans, Arial, sans-serif" font-size="10.5" fill="#111" text-anchor="end">6</text>
<text x="287.3" y="337.6" font-family="Liberation Sans, Arial, sans-serif" font-size="10.5" fill="#111" text-anchor="end">9</text>
<text x="287.3" y="316.8" font-family="Liberation Sans, Arial, sans-serif" font-size="10.5" fill="#111" text-anchor="end">12</text>
<text x="287.3" y="295.9" font-family="Liberation Sans, Arial, sans-serif" font-size="10.5" fill="#111" text-anchor="end">15</text>
<text x="287.3" y="275.1" font-family="Liberation Sans, Arial, sans-serif" font-size="10.5" fill="#111" text-anchor="end">18</text>
<text x="287.3" y="254.2" font-family="Liberation Sans, Arial, sans-serif" font-size="10.5" fill="#111" text-anchor="end">21</text>
<text x="287.3" y="233.4" font-family="Liberation Sans, Arial, sans-serif" font-size="10.5" fill="#111" text-anchor="end">24</text>
<text transform="translate(270.1,364.8) rotate(-90)" font-family="Liberation Sans, Arial, sans-serif" font-size="9" font-weight="bold" fill="#222" textLength="93" lengthAdjust="spacingAndGlyphs">Photocurrent gain (%)</text>
<rect x="302.4" y="243.9" width="43.5" height="152.6" fill="#fff" stroke="#2ef2f2" stroke-width="1.4"/>
<rect x="303.1" y="247.0" width="42.1" height="149.5" fill="#66aa42"/>
<line x1="302.4" y1="247.0" x2="345.9" y2="247.0" stroke="#2ef2f2" stroke-width="1.2"/>
<rect x="320.1" y="306.2" width="31.3" height="90.3" fill="#c2c2c2"/>
<path d="M346.6,306.7 H350.9 V396.5" fill="none" stroke="#2ef2f2" stroke-width="1.2"/>
<rect x="359.9" y="259.0" width="42.9" height="137.5" fill="#fff" stroke="#1a1ae8" stroke-width="1.4"/>
<rect x="360.6" y="271.2" width="41.5" height="125.3" fill="#66aa42"/>
<line x1="359.9" y1="271.2" x2="402.8" y2="271.2" stroke="#1a1ae8" stroke-width="1.2"/>
<rect x="376.8" y="323.8" width="31.7" height="72.7" fill="#c2c2c2"/>
<path d="M403.5,324.3 H408.0 V396.5" fill="none" stroke="#1a1ae8" stroke-width="1.2"/>
<rect x="416.8" y="258.8" width="43.0" height="137.7" fill="#fff" stroke="#2cf02c" stroke-width="1.4"/>
<rect x="417.5" y="264.0" width="41.6" height="132.5" fill="#66aa42"/>
<line x1="416.8" y1="264.0" x2="459.8" y2="264.0" stroke="#2cf02c" stroke-width="1.2"/>
<rect x="433.3" y="312.8" width="33.5" height="83.7" fill="#c2c2c2"/>
<path d="M460.5,313.3 H466.3 V396.5" fill="none" stroke="#2cf02c" stroke-width="1.2"/>
<rect x="473.8" y="269.9" width="43.0" height="126.6" fill="#fff" stroke="#2f8f2a" stroke-width="1.4"/>
<rect x="474.5" y="273.6" width="41.6" height="122.9" fill="#66aa42"/>
<line x1="473.8" y1="273.6" x2="516.8" y2="273.6" stroke="#2f8f2a" stroke-width="1.2"/>
<rect x="491.6" y="296.6" width="31.0" height="99.9" fill="#c2c2c2"/>
<path d="M517.5,297.1 H522.1 V396.5" fill="none" stroke="#2f8f2a" stroke-width="1.2"/>
<line x1="291.5" y1="396.5" x2="535.5" y2="396.5" stroke="#555" stroke-width="1.1"/>
<text x="323" y="378.2" font-family="Liberation Sans, Arial, sans-serif" font-size="11" font-weight="bold" fill="#1a1a1a">TiO<tspan font-size="9.8" dy="3">2</tspan></text>
<text x="335" y="391.3" font-family="Liberation Sans, Arial, sans-serif" font-size="9.6" font-weight="bold" fill="#1a1a1a" text-anchor="middle">1.3&#956;m</text>
<text x="380" y="378.2" font-family="Liberation Sans, Arial, sans-serif" font-size="11" font-weight="bold" fill="#1a1a1a">TiO<tspan font-size="9.8" dy="3">2</tspan></text>
<text x="392" y="391.3" font-family="Liberation Sans, Arial, sans-serif" font-size="9.6" font-weight="bold" fill="#1a1a1a" text-anchor="middle">1.6&#956;m</text>
<text x="449" y="378.2" font-family="Liberation Sans, Arial, sans-serif" font-size="11" font-weight="bold" fill="#1a1a1a" text-anchor="middle">IZO</text>
<text x="449" y="391.3" font-family="Liberation Sans, Arial, sans-serif" font-size="9.6" font-weight="bold" fill="#1a1a1a" text-anchor="middle">1.3&#956;m</text>
<text x="507" y="378.2" font-family="Liberation Sans, Arial, sans-serif" font-size="11" font-weight="bold" fill="#1a1a1a" text-anchor="middle">IZO</text>
<text x="507" y="391.3" font-family="Liberation Sans, Arial, sans-serif" font-size="9.6" font-weight="bold" fill="#1a1a1a" text-anchor="middle">1.6&#956;m</text>
<text x="329.6" y="231.6" font-family="Liberation Sans, Arial, sans-serif" font-size="10" fill="#222">Efficiency</text>
<rect x="375" y="224.4" width="11.4" height="7" fill="#c0c0c0"/>
<text x="394.6" y="231.6" font-family="Liberation Sans, Arial, sans-serif" font-size="10.2" fill="#222">Generated Photocurrent J<tspan font-size="8">sc</tspan>:</text>
<text x="394.6" y="245.5" font-family="Liberation Sans, Arial, sans-serif" font-size="9.9" fill="#222">Measured</text>
<rect x="441.6" y="239" width="12" height="6.6" fill="#66aa42"/>
<text x="465.6" y="245.6" font-family="Liberation Sans, Arial, sans-serif" font-size="9.6" fill="#222">Theoretical</text>
<rect x="517.5" y="240" width="10.5" height="5.6" fill="#fff" stroke="#111" stroke-width="1"/>
</svg>
</body></html>
